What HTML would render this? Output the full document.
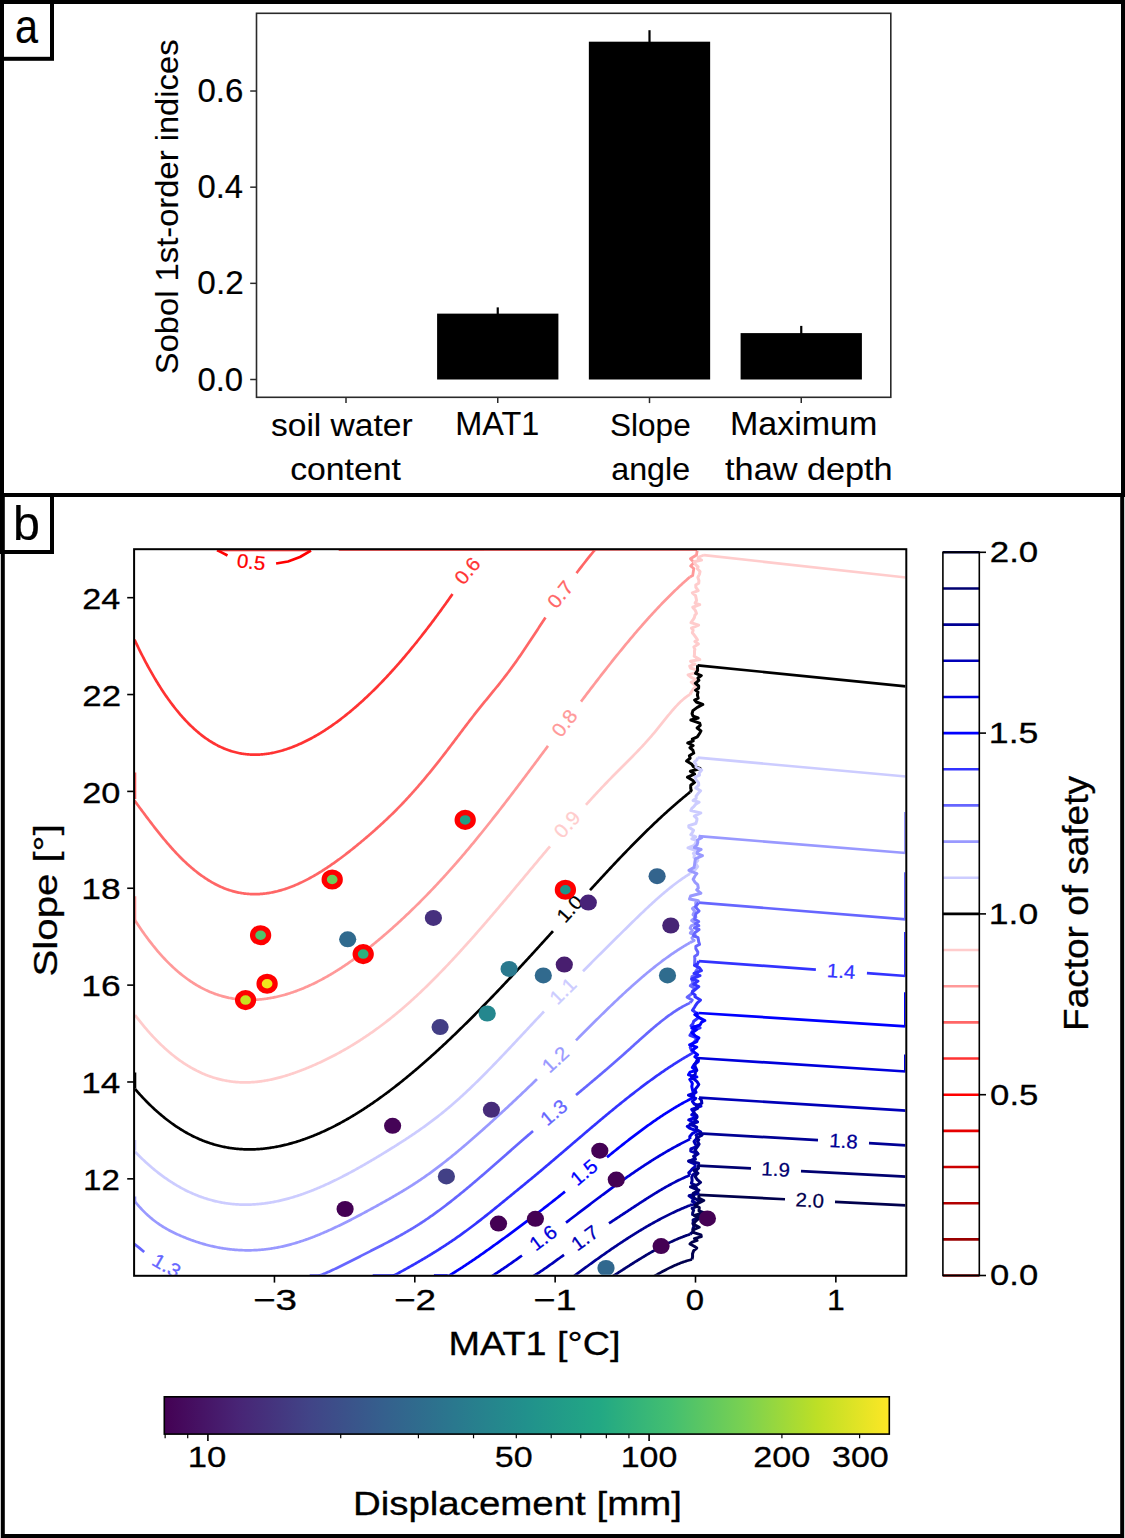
<!DOCTYPE html>
<html><head><meta charset="utf-8"><style>
html,body{margin:0;padding:0;background:#fff;}
svg{display:block;}
text{font-family:"Liberation Sans", sans-serif;}
</style></head><body>
<svg width="1125" height="1538" viewBox="0 0 1125 1538">
<rect width="1125" height="1538" fill="#fff"/>
<rect x="2" y="2" width="1121" height="493" fill="none" stroke="#000" stroke-width="4"/>
<rect x="2.8" y="495" width="1119.4" height="1041" fill="none" stroke="#000" stroke-width="4"/>
<rect x="2" y="2" width="50" height="56.8" fill="none" stroke="#000" stroke-width="4"/>
<rect x="2" y="495" width="50" height="57" fill="none" stroke="#000" stroke-width="4"/>
<text transform="translate(15.05,43) scale(0.8528,1)" font-size="48.5" fill="#000" stroke="#000" stroke-width="0.2">a</text>
<text transform="translate(13.05,540.3) scale(0.9989,1)" font-size="48.5" fill="#000" stroke="#000" stroke-width="0.2">b</text>
<rect x="437.1" y="313.63" width="121.3" height="65.87" fill="#000"/>
<line x1="497.75" y1="314.63" x2="497.75" y2="307.38" stroke="#000" stroke-width="2.2" />
<rect x="588.85" y="41.69" width="121.3" height="337.81" fill="#000"/>
<line x1="649.5" y1="42.69" x2="649.5" y2="30.2" stroke="#000" stroke-width="2.2" />
<rect x="740.6" y="333.1" width="121.3" height="46.4" fill="#000"/>
<line x1="801.25" y1="334.1" x2="801.25" y2="325.89" stroke="#000" stroke-width="2.2" />
<rect x="256.5" y="13.3" width="634.3" height="384" fill="none" stroke="#2a2a2a" stroke-width="1.6"/>
<line x1="250.2" y1="379.5" x2="256.5" y2="379.5" stroke="#2a2a2a" stroke-width="1.5" />
<text transform="translate(197.38,390.5) scale(0.9829,1)" font-size="33.5" fill="#000" stroke="#000" stroke-width="0.2">0.0</text>
<line x1="250.2" y1="283.34" x2="256.5" y2="283.34" stroke="#2a2a2a" stroke-width="1.5" />
<text transform="translate(197.37,294.34) scale(0.9943,1)" font-size="33.5" fill="#000" stroke="#000" stroke-width="0.2">0.2</text>
<line x1="250.2" y1="187.18" x2="256.5" y2="187.18" stroke="#2a2a2a" stroke-width="1.5" />
<text transform="translate(197.39,198.18) scale(0.9792,1)" font-size="33.5" fill="#000" stroke="#000" stroke-width="0.2">0.4</text>
<line x1="250.2" y1="91.02" x2="256.5" y2="91.02" stroke="#2a2a2a" stroke-width="1.5" />
<text transform="translate(197.38,102.02) scale(0.9867,1)" font-size="33.5" fill="#000" stroke="#000" stroke-width="0.2">0.6</text>
<line x1="346" y1="397.3" x2="346" y2="403.1" stroke="#2a2a2a" stroke-width="1.5" />
<line x1="497.75" y1="397.3" x2="497.75" y2="403.1" stroke="#2a2a2a" stroke-width="1.5" />
<line x1="649.5" y1="397.3" x2="649.5" y2="403.1" stroke="#2a2a2a" stroke-width="1.5" />
<line x1="801.25" y1="397.3" x2="801.25" y2="403.1" stroke="#2a2a2a" stroke-width="1.5" />
<text transform="translate(270.99,435.6) scale(1.0479,1)" font-size="32" fill="#000" stroke="#000" stroke-width="0.1">soil water</text>
<text transform="translate(290.15,479.8) scale(1.0558,1)" font-size="32" fill="#000" stroke="#000" stroke-width="0.1">content</text>
<text transform="translate(455.2,435) scale(0.9835,1)" font-size="33" fill="#000" stroke="#000" stroke-width="0.1">MAT1</text>
<text transform="translate(610.08,435.6) scale(0.9850,1)" font-size="32" fill="#000" stroke="#000" stroke-width="0.1">Slope</text>
<text transform="translate(611.31,479.8) scale(1.0064,1)" font-size="32" fill="#000" stroke="#000" stroke-width="0.1">angle</text>
<text transform="translate(729.98,435.3) scale(1.0306,1)" font-size="33" fill="#000" stroke="#000" stroke-width="0.1">Maximum</text>
<text transform="translate(725.09,479.8) scale(1.0707,1)" font-size="32" fill="#000" stroke="#000" stroke-width="0.1">thaw depth</text>
<text transform="translate(178.3,374.17) rotate(-90) scale(1.0228,1)" font-size="32" fill="#000" stroke="#000" stroke-width="0.1">Sobol 1st-order indices</text>
<defs><clipPath id="cb"><rect x="135" y="550.2" width="770.3" height="724.6"/></clipPath></defs>
<g clip-path="url(#cb)">
<polyline points="134.5,639.62 135.5,641.75 136.5,643.86 137.5,645.94 138.5,648 139.5,650.04 140.5,652.05 141.5,654.04 142.5,656 143.5,657.95 144.5,659.87 145.5,661.77 146.5,663.65 147.5,665.5 148.5,667.33 149.5,669.14 150.5,670.93 151.5,672.7 152.5,674.44 153.5,676.16 154.5,677.86 155.5,679.54 156.5,681.2 157.5,682.83 158.5,684.45 159.5,686.04 160.5,687.62 161.5,689.17 162.5,690.7 163.5,692.21 164.5,693.7 165.5,695.16 166.5,696.61 167.5,698.04 168.5,699.45 169.5,700.83 170.5,702.2 171.5,703.54 172.5,704.87 173.5,706.18 174.5,707.46 175.5,708.73 176.5,709.98 177.5,711.21 178.5,712.41 179.5,713.6 180.5,714.77 181.5,715.92 182.5,717.06 183.5,718.17 184.5,719.26 185.5,720.34 186.5,721.39 187.5,722.43 188.5,723.45 189.5,724.45 190.5,725.44 191.5,726.4 192.5,727.35 193.5,728.28 194.5,729.19 195.5,730.08 196.5,730.95 197.5,731.81 198.5,732.65 199.5,733.48 200.5,734.28 201.5,735.07 202.5,735.84 203.5,736.59 204.5,737.33 205.5,738.05 206.5,738.75 207.5,739.44 208.5,740.11 209.5,740.77 210.5,741.4 211.5,742.02 212.5,742.63 213.5,743.22 214.5,743.79 215.5,744.35 216.5,744.89 217.5,745.42 218.5,745.92 219.5,746.42 220.5,746.9 221.5,747.36 222.5,747.81 223.5,748.24 224.5,748.66 225.5,749.07 226.5,749.45 227.5,749.83 228.5,750.19 229.5,750.53 230.5,750.86 231.5,751.18 232.5,751.48 233.5,751.77 234.5,752.04 235.5,752.3 236.5,752.54 237.5,752.77 238.5,752.99 239.5,753.2 240.5,753.39 241.5,753.56 242.5,753.73 243.5,753.88 244.5,754.01 245.5,754.14 246.5,754.25 247.5,754.35 248.5,754.43 249.5,754.51 250.5,754.57 251.5,754.62 252.5,754.65 253.5,754.68 254.5,754.69 255.5,754.69 256.5,754.67 257.5,754.65 258.5,754.61 259.5,754.56 260.5,754.5 261.5,754.43 262.5,754.35 263.5,754.26 264.5,754.15 265.5,754.03 266.5,753.91 267.5,753.77 268.5,753.62 269.5,753.46 270.5,753.29 271.5,753.1 272.5,752.91 273.5,752.71 274.5,752.5 275.5,752.28 276.5,752.04 277.5,751.8 278.5,751.55 279.5,751.28 280.5,751.01 281.5,750.73 282.5,750.44 283.5,750.14 284.5,749.83 285.5,749.51 286.5,749.18 287.5,748.84 288.5,748.49 289.5,748.14 290.5,747.77 291.5,747.4 292.5,747.02 293.5,746.63 294.5,746.23 295.5,745.82 296.5,745.41 297.5,744.99 298.5,744.55 299.5,744.11 300.5,743.67 301.5,743.21 302.5,742.75 303.5,742.27 304.5,741.79 305.5,741.31 306.5,740.81 307.5,740.3 308.5,739.79 309.5,739.27 310.5,738.74 311.5,738.21 312.5,737.66 313.5,737.11 314.5,736.55 315.5,735.98 316.5,735.41 317.5,734.82 318.5,734.23 319.5,733.64 320.5,733.03 321.5,732.41 322.5,731.79 323.5,731.16 324.5,730.53 325.5,729.88 326.5,729.23 327.5,728.57 328.5,727.9 329.5,727.23 330.5,726.54 331.5,725.85 332.5,725.16 333.5,724.45 334.5,723.74 335.5,723.02 336.5,722.29 337.5,721.56 338.5,720.82 339.5,720.07 340.5,719.31 341.5,718.55 342.5,717.78 343.5,717 344.5,716.22 345.5,715.42 346.5,714.62 347.5,713.82 348.5,713 349.5,712.18 350.5,711.36 351.5,710.52 352.5,709.68 353.5,708.83 354.5,707.98 355.5,707.11 356.5,706.24 357.5,705.37 358.5,704.48 359.5,703.59 360.5,702.7 361.5,701.79 362.5,700.88 363.5,699.97 364.5,699.04 365.5,698.11 366.5,697.17 367.5,696.23 368.5,695.28 369.5,694.32 370.5,693.36 371.5,692.39 372.5,691.41 373.5,690.43 374.5,689.44 375.5,688.44 376.5,687.44 377.5,686.43 378.5,685.41 379.5,684.39 380.5,683.36 381.5,682.33 382.5,681.29 383.5,680.24 384.5,679.18 385.5,678.12 386.5,677.06 387.5,675.99 388.5,674.91 389.5,673.82 390.5,672.73 391.5,671.63 392.5,670.53 393.5,669.42 394.5,668.31 395.5,667.18 396.5,666.06 397.5,664.92 398.5,663.78 399.5,662.64 400.5,661.49 401.5,660.33 402.5,659.17 403.5,658 404.5,656.82 405.5,655.64 406.5,654.46 407.5,653.26 408.5,652.07 409.5,650.86 410.5,649.65 411.5,648.44 412.5,647.22 413.5,645.99 414.5,644.76 415.5,643.52 416.5,642.28 417.5,641.03 418.5,639.78 419.5,638.52 420.5,637.25 421.5,635.98 422.5,634.71 423.5,633.43 424.5,632.14 425.5,630.85 426.5,629.55 427.5,628.25 428.5,626.94 429.5,625.63 430.5,624.31 431.5,622.98 432.5,621.65 433.5,620.32 434.5,618.98 435.5,617.64 436.5,616.29 437.5,614.93 438.5,613.57 439.5,612.21 440.5,610.84 441.5,609.46 442.5,608.08 443.5,606.7 444.5,605.31 445.5,603.92 446.5,602.52 447.5,601.11 448.5,599.7 449.5,598.29 450.5,596.87 451.5,595.45 452.5,594.02" fill="none" stroke="#ff3333" stroke-width="2.7" stroke-linejoin="round" />
<polyline points="483.5,547.51 484.5,545.94 485.5,544.36 486,543.58" fill="none" stroke="#ff3333" stroke-width="2.7" stroke-linejoin="round" />
<g transform="translate(467.3,570.8) rotate(-50)"><text transform="translate(-14.23,6.82) scale(1.050,1)" font-size="19.5" fill="#ff3333" stroke="#ff3333" stroke-width="0.25">0.6</text></g>
<polyline points="134.5,800.64 135.5,802 136.5,803.36 137.5,804.72 138.5,806.07 139.5,807.43 140.5,808.78 141.5,810.13 142.5,811.47 143.5,812.82 144.5,814.16 145.5,815.49 146.5,816.83 147.5,818.15 148.5,819.48 149.5,820.79 150.5,822.11 151.5,823.41 152.5,824.71 153.5,826.01 154.5,827.3 155.5,828.58 156.5,829.85 157.5,831.12 158.5,832.38 159.5,833.63 160.5,834.87 161.5,836.1 162.5,837.33 163.5,838.54 164.5,839.75 165.5,840.94 166.5,842.13 167.5,843.3 168.5,844.47 169.5,845.62 170.5,846.76 171.5,847.89 172.5,849 173.5,850.11 174.5,851.2 175.5,852.28 176.5,853.34 177.5,854.39 178.5,855.43 179.5,856.45 180.5,857.46 181.5,858.46 182.5,859.44 183.5,860.42 184.5,861.37 185.5,862.32 186.5,863.25 187.5,864.16 188.5,865.07 189.5,865.96 190.5,866.83 191.5,867.69 192.5,868.54 193.5,869.38 194.5,870.2 195.5,871.01 196.5,871.8 197.5,872.58 198.5,873.35 199.5,874.1 200.5,874.84 201.5,875.56 202.5,876.27 203.5,876.97 204.5,877.65 205.5,878.32 206.5,878.98 207.5,879.62 208.5,880.25 209.5,880.86 210.5,881.46 211.5,882.05 212.5,882.62 213.5,883.18 214.5,883.72 215.5,884.25 216.5,884.77 217.5,885.27 218.5,885.76 219.5,886.23 220.5,886.69 221.5,887.14 222.5,887.57 223.5,887.99 224.5,888.39 225.5,888.78 226.5,889.15 227.5,889.51 228.5,889.86 229.5,890.19 230.5,890.51 231.5,890.81 232.5,891.1 233.5,891.38 234.5,891.64 235.5,891.89 236.5,892.13 237.5,892.35 238.5,892.56 239.5,892.76 240.5,892.94 241.5,893.11 242.5,893.27 243.5,893.41 244.5,893.54 245.5,893.66 246.5,893.77 247.5,893.86 248.5,893.94 249.5,894.01 250.5,894.07 251.5,894.11 252.5,894.14 253.5,894.16 254.5,894.17 255.5,894.16 256.5,894.15 257.5,894.12 258.5,894.08 259.5,894.03 260.5,893.97 261.5,893.89 262.5,893.8 263.5,893.71 264.5,893.6 265.5,893.48 266.5,893.35 267.5,893.2 268.5,893.05 269.5,892.89 270.5,892.71 271.5,892.53 272.5,892.33 273.5,892.12 274.5,891.91 275.5,891.68 276.5,891.44 277.5,891.19 278.5,890.93 279.5,890.67 280.5,890.39 281.5,890.1 282.5,889.8 283.5,889.49 284.5,889.17 285.5,888.85 286.5,888.51 287.5,888.16 288.5,887.81 289.5,887.44 290.5,887.07 291.5,886.68 292.5,886.29 293.5,885.89 294.5,885.48 295.5,885.06 296.5,884.63 297.5,884.19 298.5,883.74 299.5,883.29 300.5,882.83 301.5,882.35 302.5,881.87 303.5,881.39 304.5,880.89 305.5,880.39 306.5,879.87 307.5,879.35 308.5,878.82 309.5,878.29 310.5,877.74 311.5,877.19 312.5,876.63 313.5,876.07 314.5,875.49 315.5,874.91 316.5,874.32 317.5,873.73 318.5,873.13 319.5,872.52 320.5,871.9 321.5,871.28 322.5,870.64 323.5,870.01 324.5,869.36 325.5,868.71 326.5,868.06 327.5,867.39 328.5,866.72 329.5,866.05 330.5,865.37 331.5,864.68 332.5,863.98 333.5,863.28 334.5,862.58 335.5,861.87 336.5,861.15 337.5,860.43 338.5,859.7 339.5,858.97 340.5,858.23 341.5,857.48 342.5,856.73 343.5,855.98 344.5,855.22 345.5,854.45 346.5,853.68 347.5,852.91 348.5,852.13 349.5,851.34 350.5,850.55 351.5,849.76 352.5,848.96 353.5,848.16 354.5,847.35 355.5,846.54 356.5,845.73 357.5,844.91 358.5,844.08 359.5,843.26 360.5,842.43 361.5,841.59 362.5,840.75 363.5,839.91 364.5,839.07 365.5,838.22 366.5,837.36 367.5,836.51 368.5,835.65 369.5,834.78 370.5,833.92 371.5,833.05 372.5,832.17 373.5,831.29 374.5,830.41 375.5,829.52 376.5,828.63 377.5,827.73 378.5,826.83 379.5,825.92 380.5,825.01 381.5,824.09 382.5,823.17 383.5,822.24 384.5,821.31 385.5,820.38 386.5,819.43 387.5,818.48 388.5,817.53 389.5,816.57 390.5,815.61 391.5,814.63 392.5,813.66 393.5,812.67 394.5,811.68 395.5,810.69 396.5,809.68 397.5,808.67 398.5,807.66 399.5,806.64 400.5,805.61 401.5,804.57 402.5,803.53 403.5,802.48 404.5,801.42 405.5,800.35 406.5,799.28 407.5,798.2 408.5,797.12 409.5,796.02 410.5,794.92 411.5,793.81 412.5,792.7 413.5,791.58 414.5,790.45 415.5,789.31 416.5,788.17 417.5,787.02 418.5,785.87 419.5,784.71 420.5,783.54 421.5,782.37 422.5,781.19 423.5,780.01 424.5,778.82 425.5,777.62 426.5,776.42 427.5,775.21 428.5,773.99 429.5,772.77 430.5,771.55 431.5,770.32 432.5,769.08 433.5,767.84 434.5,766.6 435.5,765.35 436.5,764.09 437.5,762.83 438.5,761.57 439.5,760.3 440.5,759.02 441.5,757.74 442.5,756.46 443.5,755.17 444.5,753.88 445.5,752.58 446.5,751.28 447.5,749.98 448.5,748.67 449.5,747.35 450.5,746.04 451.5,744.72 452.5,743.4 453.5,742.07 454.5,740.75 455.5,739.42 456.5,738.09 457.5,736.77 458.5,735.44 459.5,734.11 460.5,732.78 461.5,731.45 462.5,730.13 463.5,728.8 464.5,727.48 465.5,726.16 466.5,724.84 467.5,723.53 468.5,722.22 469.5,720.91 470.5,719.61 471.5,718.31 472.5,717.02 473.5,715.73 474.5,714.45 475.5,713.18 476.5,711.91 477.5,710.64 478.5,709.39 479.5,708.14 480.5,706.9 481.5,705.66 482.5,704.42 483.5,703.19 484.5,701.96 485.5,700.74 486.5,699.52 487.5,698.29 488.5,697.07 489.5,695.85 490.5,694.63 491.5,693.41 492.5,692.19 493.5,690.96 494.5,689.74 495.5,688.51 496.5,687.27 497.5,686.03 498.5,684.79 499.5,683.54 500.5,682.28 501.5,681.02 502.5,679.75 503.5,678.47 504.5,677.19 505.5,675.89 506.5,674.59 507.5,673.27 508.5,671.95 509.5,670.61 510.5,669.26 511.5,667.9 512.5,666.53 513.5,665.15 514.5,663.75 515.5,662.35 516.5,660.93 517.5,659.51 518.5,658.08 519.5,656.63 520.5,655.18 521.5,653.73 522.5,652.26 523.5,650.79 524.5,649.31 525.5,647.82 526.5,646.33 527.5,644.83 528.5,643.33 529.5,641.83 530.5,640.32 531.5,638.8 532.5,637.28 533.5,635.76 534.5,634.24 535.5,632.71 536.5,631.19 537.5,629.66 538.5,628.13 539.5,626.6 540.5,625.07 541.5,623.54 542.5,622.01 543.5,620.49 544.5,618.96 545.5,617.44" fill="none" stroke="#ff6666" stroke-width="2.7" stroke-linejoin="round" />
<polyline points="576.5,573.08 577.5,571.77 578.5,570.46 579.5,569.16 580.5,567.86 581.5,566.57 582.5,565.28 583.5,564.01 584.5,562.73 585.5,561.47 586.5,560.2 587.5,558.95 588.5,557.7 589.5,556.45 590.5,555.21 591.5,553.98 592.5,552.75 593.5,551.52 594.5,550.3 595.5,549.09 596.5,547.87 597,547.27" fill="none" stroke="#ff6666" stroke-width="2.7" stroke-linejoin="round" />
<g transform="translate(560,594.5) rotate(-51)"><text transform="translate(-14.13,6.82) scale(1.050,1)" font-size="19.5" fill="#ff6666" stroke="#ff6666" stroke-width="0.25">0.7</text></g>
<line x1="135.2" y1="772.4" x2="135.2" y2="798.9" stroke="#ff6666" stroke-width="2.2" />
<polyline points="135,920.2 136,921.76 137,923.29 138,924.81 139,926.31 140,927.79 141,929.26 142,930.7 143,932.13 144,933.55 145,934.94 146,936.32 147,937.67 148,939.02 149,940.34 150,941.65 151,942.94 152,944.21 153,945.47 154,946.71 155,947.94 156,949.14 157,950.33 158,951.51 159,952.67 160,953.81 161,954.93 162,956.04 163,957.14 164,958.21 165,959.27 166,960.32 167,961.35 168,962.36 169,963.36 170,964.35 171,965.31 172,966.27 173,967.2 174,968.13 175,969.03 176,969.92 177,970.8 178,971.66 179,972.51 180,973.34 181,974.16 182,974.97 183,975.76 184,976.53 185,977.29 186,978.04 187,978.77 188,979.49 189,980.19 190,980.88 191,981.56 192,982.22 193,982.87 194,983.51 195,984.13 196,984.74 197,985.33 198,985.91 199,986.48 200,987.04 201,987.58 202,988.11 203,988.63 204,989.13 205,989.62 206,990.1 207,990.57 208,991.02 209,991.46 210,991.89 211,992.31 212,992.72 213,993.11 214,993.49 215,993.86 216,994.21 217,994.56 218,994.89 219,995.22 220,995.53 221,995.83 222,996.11 223,996.39 224,996.65 225,996.91 226,997.15 227,997.38 228,997.6 229,997.82 230,998.01 231,998.2 232,998.38 233,998.55 234,998.71 235,998.86 236,998.99 237,999.12 238,999.24 239,999.34 240,999.44 241,999.53 242,999.6 243,999.67 244,999.73 245,999.78 246,999.82 247,999.85 248,999.87 249,999.88 250,999.88 251,999.87 252,999.86 253,999.83 254,999.8 255,999.76 256,999.7 257,999.64 258,999.58 259,999.5 260,999.41 261,999.32 262,999.22 263,999.11 264,998.99 265,998.87 266,998.73 267,998.59 268,998.44 269,998.28 270,998.11 271,997.94 272,997.76 273,997.57 274,997.37 275,997.17 276,996.95 277,996.73 278,996.5 279,996.27 280,996.02 281,995.77 282,995.51 283,995.24 284,994.97 285,994.69 286,994.4 287,994.1 288,993.8 289,993.49 290,993.17 291,992.84 292,992.51 293,992.17 294,991.82 295,991.47 296,991.11 297,990.74 298,990.36 299,989.98 300,989.59 301,989.19 302,988.79 303,988.38 304,987.96 305,987.54 306,987.11 307,986.67 308,986.23 309,985.78 310,985.32 311,984.85 312,984.38 313,983.91 314,983.42 315,982.93 316,982.44 317,981.93 318,981.42 319,980.91 320,980.39 321,979.86 322,979.32 323,978.78 324,978.24 325,977.68 326,977.12 327,976.56 328,975.99 329,975.41 330,974.83 331,974.24 332,973.64 333,973.04 334,972.44 335,971.82 336,971.21 337,970.58 338,969.95 339,969.32 340,968.68 341,968.03 342,967.38 343,966.72 344,966.06 345,965.39 346,964.71 347,964.03 348,963.35 349,962.66 350,961.96 351,961.26 352,960.56 353,959.85 354,959.13 355,958.41 356,957.68 357,956.95 358,956.21 359,955.47 360,954.72 361,953.97 362,953.22 363,952.45 364,951.69 365,950.92 366,950.14 367,949.36 368,948.57 369,947.78 370,946.99 371,946.19 372,945.39 373,944.58 374,943.77 375,942.95 376,942.13 377,941.3 378,940.47 379,939.64 380,938.8 381,937.95 382,937.11 383,936.25 384,935.4 385,934.54 386,933.67 387,932.8 388,931.93 389,931.06 390,930.18 391,929.29 392,928.4 393,927.51 394,926.61 395,925.71 396,924.81 397,923.9 398,922.99 399,922.07 400,921.15 401,920.23 402,919.3 403,918.37 404,917.44 405,916.5 406,915.55 407,914.6 408,913.65 409,912.7 410,911.74 411,910.78 412,909.81 413,908.84 414,907.86 415,906.88 416,905.9 417,904.91 418,903.92 419,902.93 420,901.93 421,900.92 422,899.92 423,898.9 424,897.89 425,896.87 426,895.85 427,894.82 428,893.79 429,892.75 430,891.72 431,890.67 432,889.63 433,888.57 434,887.52 435,886.46 436,885.4 437,884.33 438,883.26 439,882.19 440,881.11 441,880.02 442,878.94 443,877.85 444,876.75 445,875.65 446,874.55 447,873.44 448,872.33 449,871.22 450,870.1 451,868.97 452,867.85 453,866.72 454,865.58 455,864.44 456,863.3 457,862.15 458,861 459,859.85 460,858.69 461,857.52 462,856.36 463,855.18 464,854.01 465,852.83 466,851.65 467,850.46 468,849.27 469,848.08 470,846.88 471,845.68 472,844.48 473,843.27 474,842.06 475,840.84 476,839.63 477,838.4 478,837.18 479,835.95 480,834.72 481,833.49 482,832.25 483,831.01 484,829.77 485,828.52 486,827.27 487,826.02 488,824.76 489,823.51 490,822.25 491,820.98 492,819.72 493,818.45 494,817.18 495,815.9 496,814.63 497,813.35 498,812.07 499,810.78 500,809.5 501,808.21 502,806.92 503,805.63 504,804.33 505,803.04 506,801.74 507,800.44 508,799.13 509,797.83 510,796.52 511,795.22 512,793.91 513,792.59 514,791.28 515,789.96 516,788.65 517,787.33 518,786.01 519,784.69 520,783.36 521,782.04 522,780.71 523,779.39 524,778.06 525,776.73 526,775.4 527,774.06 528,772.73 529,771.4 530,770.06 531,768.72 532,767.39 533,766.05 534,764.71 535,763.37 536,762.03 537,760.68 538,759.34 539,758 540,756.66 541,755.31 542,753.97 543,752.62 544,751.28 545,749.93 546,748.58 547,747.24 548,745.89" fill="none" stroke="#ff9999" stroke-width="2.7" stroke-linejoin="round" />
<polyline points="581,701.62 582,700.29 583,698.97 584,697.65 585,696.33 586,695.01 587,693.69 588,692.37 589,691.06 590,689.75 591,688.44 592,687.13 593,685.82 594,684.52 595,683.22 596,681.92 597,680.62 598,679.32 599,678.03 600,676.74 601,675.45 602,674.17 603,672.88 604,671.6 605,670.33 606,669.05 607,667.78 608,666.51 609,665.24 610,663.98 611,662.72 612,661.46 613,660.21 614,658.95 615,657.71 616,656.46 617,655.22 618,653.98 619,652.75 620,651.51 621,650.29 622,649.06 623,647.84 624,646.62 625,645.41 626,644.2 627,642.99 628,641.79 629,640.59 630,639.4 631,638.21 632,637.02 633,635.84 634,634.66 635,633.49 636,632.32 637,631.15 638,629.99 639,628.83 640,627.68 641,626.53 642,625.39 643,624.25 644,623.12 645,621.99 646,620.86 647,619.74 648,618.63 649,617.52 650,616.41 651,615.31 652,614.22 653,613.13 654,612.05 655,610.97 656,609.89 657,608.82 658,607.76 659,606.7 660,605.65 661,604.6 662,603.56 663,602.53 664,601.5 665,600.47 666,599.46 667,598.44 668,597.44 669,596.44 670,595.44 671,594.45 672,593.47 673,592.5 674,591.53 675,590.56 676,589.6 677,588.65 678,587.71 679,586.77 680,585.84 681,584.91 682,583.99 683,583.08 684,582.18 685,581.28 686,580.39 687,579.5 688,578.63 689,577.76 690,576.89" fill="none" stroke="#ff9999" stroke-width="2.7" stroke-linejoin="round" />
<g transform="translate(564.5,723) rotate(-52)"><text transform="translate(-14.23,6.82) scale(1.050,1)" font-size="19.5" fill="#ff9999" stroke="#ff9999" stroke-width="0.25">0.8</text></g>
<line x1="135.2" y1="896.2" x2="135.2" y2="919.9" stroke="#ff9999" stroke-width="2.2" />
<polyline points="690,576.89 692.7,575.6 693.8,568.5 690.6,566 694.2,562.5 690.4,558.8 696.5,555 697.2,550.5" fill="none" stroke="#ff9999" stroke-width="2.8" stroke-linejoin="round" />
<polyline points="135,1014.96 136,1016.28 137,1017.59 138,1018.89 139,1020.17 140,1021.43 141,1022.69 142,1023.92 143,1025.15 144,1026.35 145,1027.55 146,1028.72 147,1029.89 148,1031.04 149,1032.17 150,1033.29 151,1034.4 152,1035.49 153,1036.57 154,1037.63 155,1038.68 156,1039.72 157,1040.74 158,1041.75 159,1042.75 160,1043.73 161,1044.69 162,1045.65 163,1046.59 164,1047.51 165,1048.43 166,1049.33 167,1050.21 168,1051.08 169,1051.94 170,1052.79 171,1053.62 172,1054.44 173,1055.25 174,1056.04 175,1056.82 176,1057.59 177,1058.35 178,1059.09 179,1059.82 180,1060.54 181,1061.24 182,1061.93 183,1062.61 184,1063.28 185,1063.93 186,1064.57 187,1065.2 188,1065.82 189,1066.42 190,1067.02 191,1067.6 192,1068.16 193,1068.72 194,1069.27 195,1069.8 196,1070.32 197,1070.83 198,1071.33 199,1071.81 200,1072.28 201,1072.75 202,1073.2 203,1073.64 204,1074.06 205,1074.48 206,1074.89 207,1075.28 208,1075.66 209,1076.03 210,1076.4 211,1076.74 212,1077.08 213,1077.41 214,1077.73 215,1078.03 216,1078.33 217,1078.61 218,1078.88 219,1079.15 220,1079.4 221,1079.64 222,1079.87 223,1080.09 224,1080.3 225,1080.5 226,1080.69 227,1080.87 228,1081.04 229,1081.2 230,1081.35 231,1081.49 232,1081.62 233,1081.74 234,1081.85 235,1081.95 236,1082.04 237,1082.12 238,1082.19 239,1082.25 240,1082.3 241,1082.35 242,1082.38 243,1082.4 244,1082.42 245,1082.42 246,1082.42 247,1082.4 248,1082.38 249,1082.35 250,1082.31 251,1082.26 252,1082.2 253,1082.14 254,1082.06 255,1081.98 256,1081.89 257,1081.79 258,1081.68 259,1081.56 260,1081.44 261,1081.31 262,1081.17 263,1081.02 264,1080.86 265,1080.7 266,1080.53 267,1080.35 268,1080.16 269,1079.97 270,1079.77 271,1079.56 272,1079.35 273,1079.13 274,1078.9 275,1078.67 276,1078.42 277,1078.18 278,1077.92 279,1077.66 280,1077.39 281,1077.12 282,1076.84 283,1076.55 284,1076.26 285,1075.96 286,1075.66 287,1075.35 288,1075.04 289,1074.71 290,1074.39 291,1074.06 292,1073.72 293,1073.38 294,1073.03 295,1072.68 296,1072.32 297,1071.96 298,1071.59 299,1071.22 300,1070.84 301,1070.46 302,1070.07 303,1069.68 304,1069.29 305,1068.89 306,1068.49 307,1068.08 308,1067.67 309,1067.25 310,1066.83 311,1066.41 312,1065.98 313,1065.55 314,1065.12 315,1064.68 316,1064.23 317,1063.78 318,1063.33 319,1062.87 320,1062.41 321,1061.95 322,1061.48 323,1061.01 324,1060.53 325,1060.04 326,1059.56 327,1059.07 328,1058.57 329,1058.07 330,1057.57 331,1057.06 332,1056.55 333,1056.03 334,1055.51 335,1054.98 336,1054.45 337,1053.92 338,1053.38 339,1052.83 340,1052.28 341,1051.73 342,1051.17 343,1050.61 344,1050.05 345,1049.47 346,1048.9 347,1048.32 348,1047.73 349,1047.14 350,1046.55 351,1045.95 352,1045.35 353,1044.74 354,1044.13 355,1043.51 356,1042.89 357,1042.26 358,1041.63 359,1040.99 360,1040.35 361,1039.7 362,1039.05 363,1038.4 364,1037.74 365,1037.07 366,1036.4 367,1035.73 368,1035.05 369,1034.36 370,1033.67 371,1032.98 372,1032.28 373,1031.57 374,1030.86 375,1030.15 376,1029.43 377,1028.7 378,1027.97 379,1027.24 380,1026.5 381,1025.76 382,1025.01 383,1024.25 384,1023.49 385,1022.73 386,1021.96 387,1021.18 388,1020.4 389,1019.61 390,1018.82 391,1018.03 392,1017.23 393,1016.42 394,1015.61 395,1014.79 396,1013.97 397,1013.14 398,1012.31 399,1011.47 400,1010.63 401,1009.78 402,1008.93 403,1008.07 404,1007.2 405,1006.33 406,1005.46 407,1004.58 408,1003.69 409,1002.8 410,1001.91 411,1001.01 412,1000.1 413,999.19 414,998.27 415,997.35 416,996.43 417,995.5 418,994.57 419,993.63 420,992.68 421,991.74 422,990.78 423,989.83 424,988.86 425,987.9 426,986.93 427,985.95 428,984.97 429,983.99 430,983 431,982.01 432,981.02 433,980.02 434,979.01 435,978 436,976.99 437,975.98 438,974.96 439,973.93 440,972.91 441,971.87 442,970.84 443,969.8 444,968.76 445,967.71 446,966.67 447,965.61 448,964.56 449,963.5 450,962.43 451,961.37 452,960.3 453,959.23 454,958.15 455,957.07 456,955.99 457,954.9 458,953.82 459,952.72 460,951.63 461,950.53 462,949.43 463,948.33 464,947.22 465,946.12 466,945 467,943.89 468,942.77 469,941.66 470,940.53 471,939.41 472,938.28 473,937.15 474,936.02 475,934.89 476,933.75 477,932.62 478,931.48 479,930.33 480,929.19 481,928.04 482,926.89 483,925.74 484,924.59 485,923.44 486,922.28 487,921.12 488,919.96 489,918.8 490,917.64 491,916.47 492,915.3 493,914.14 494,912.97 495,911.8 496,910.62 497,909.45 498,908.27 499,907.1 500,905.92 501,904.74 502,903.56 503,902.38 504,901.19 505,900.01 506,898.82 507,897.64 508,896.45 509,895.26 510,894.07 511,892.88 512,891.69 513,890.5 514,889.31 515,888.12 516,886.93 517,885.73 518,884.54 519,883.34 520,882.15 521,880.95 522,879.76 523,878.56 524,877.36 525,876.17 526,874.97 527,873.77 528,872.58 529,871.38 530,870.18 531,868.99 532,867.79 533,866.59 534,865.4 535,864.2 536,863.01 537,861.81 538,860.62 539,859.42 540,858.23 541,857.04 542,855.84 543,854.65 544,853.46 545,852.27 546,851.08 547,849.89 548,848.71 549,847.52 550,846.34" fill="none" stroke="#ffcccc" stroke-width="2.7" stroke-linejoin="round" />
<polyline points="586,804.81 587,803.7 588,802.59 589,801.49 590,800.39 591,799.29 592,798.2 593,797.11 594,796.02 595,794.94 596,793.85 597,792.78 598,791.7 599,790.63 600,789.57 601,788.5 602,787.44 603,786.39 604,785.34 605,784.29 606,783.24 607,782.2 608,781.17 609,780.14 610,779.11 611,778.09 612,777.07 613,776.05 614,775.04 615,774.03 616,773.02 617,772.02 618,771.01 619,770.01 620,769.01 621,768.01 622,767.02 623,766.02 624,765.02 625,764.02 626,763.02 627,762.01 628,761.01 629,760 630,758.99 631,757.98 632,756.97 633,755.95 634,754.92 635,753.9 636,752.86 637,751.83 638,750.78 639,749.73 640,748.68 641,747.62 642,746.55 643,745.47 644,744.39 645,743.3 646,742.19 647,741.09 648,739.97 649,738.84 650,737.7 651,736.55 652,735.39 653,734.22 654,733.04 655,731.84 656,730.64 657,729.42 658,728.19 659,726.95 660,725.7 661,724.45 662,723.2 663,721.95 664,720.69 665,719.44 666,718.19 667,716.95 668,715.72 669,714.5 670,713.29 671,712.09 672,710.91 673,709.75 674,708.6 675,707.48 676,706.38 677,705.31 678,704.26 679,703.25 680,702.26 681,701.31 682,700.39 683,699.5 684,698.66 685,697.86 686,697.09 687,696.38 688,695.71 689,695.08 690,694.51" fill="none" stroke="#ffcccc" stroke-width="2.7" stroke-linejoin="round" />
<g transform="translate(567,824.4) rotate(-48)"><text transform="translate(-14.18,6.82) scale(1.050,1)" font-size="19.5" fill="#ffcccc" stroke="#ffcccc" stroke-width="0.25">0.9</text></g>
<polyline points="690,694.51 691.04,692.51 693.11,689.25 696.11,686.78 693.92,684.24 691.18,682.11 697.18,680.22 690.81,677.04 688.04,674.91 698.07,672.17 697.1,670.1 690.59,667.98 689.66,666.12 695.02,664.23 690.47,661.22 699.83,659.58 694.2,656.21 694.52,654.14 694.49,650.88 694.88,649.28 693.82,646.96 698.44,643.89 694.89,641.42 697.49,639.77 695.69,637.15 693.7,634.41 692.36,632.74 693.19,630.16 691.4,628.12 698.62,625.09 690.94,622.6 692.94,619.95 694.35,617.66 694.96,615.14 696.52,613.52 695.33,610.37 692.74,607.24 699.75,604.71 695.1,603.08 696.6,600.45 695.94,597.4 695.53,595.71 692.34,592.84 698.25,590.64 695.87,587.33 695.75,584.99 698.7,583.24 698.96,580.7 697.83,577.36 699.4,574.37 700.06,571.51 697.13,568.53 698.17,566.78 695.73,564.75 694.03,561.69 701.57,559.98 697,557.8" fill="none" stroke="#ffcccc" stroke-width="3.0" stroke-linejoin="round" />
<polyline points="697,557.8 704,555.1" fill="none" stroke="#ffcccc" stroke-width="2.7" stroke-linejoin="round" />
<polyline points="704,555.1 906,577.5" fill="none" stroke="#ffcccc" stroke-width="2.7" stroke-linejoin="round" />
<polyline points="135,1088.96 136,1090.11 137,1091.25 138,1092.38 139,1093.49 140,1094.59 141,1095.68 142,1096.76 143,1097.82 144,1098.88 145,1099.92 146,1100.94 147,1101.96 148,1102.96 149,1103.95 150,1104.93 151,1105.89 152,1106.85 153,1107.79 154,1108.72 155,1109.64 156,1110.55 157,1111.44 158,1112.32 159,1113.19 160,1114.05 161,1114.9 162,1115.74 163,1116.56 164,1117.38 165,1118.18 166,1118.97 167,1119.75 168,1120.52 169,1121.27 170,1122.02 171,1122.75 172,1123.48 173,1124.19 174,1124.89 175,1125.58 176,1126.26 177,1126.93 178,1127.58 179,1128.23 180,1128.87 181,1129.49 182,1130.11 183,1130.71 184,1131.3 185,1131.89 186,1132.46 187,1133.02 188,1133.57 189,1134.11 190,1134.64 191,1135.17 192,1135.68 193,1136.18 194,1136.67 195,1137.15 196,1137.62 197,1138.08 198,1138.53 199,1138.97 200,1139.4 201,1139.82 202,1140.23 203,1140.63 204,1141.02 205,1141.41 206,1141.78 207,1142.14 208,1142.5 209,1142.84 210,1143.17 211,1143.5 212,1143.82 213,1144.12 214,1144.42 215,1144.71 216,1144.99 217,1145.26 218,1145.52 219,1145.77 220,1146.02 221,1146.25 222,1146.48 223,1146.7 224,1146.9 225,1147.1 226,1147.3 227,1147.48 228,1147.65 229,1147.82 230,1147.97 231,1148.12 232,1148.26 233,1148.4 234,1148.52 235,1148.63 236,1148.74 237,1148.84 238,1148.93 239,1149.02 240,1149.09 241,1149.16 242,1149.22 243,1149.27 244,1149.31 245,1149.35 246,1149.38 247,1149.4 248,1149.41 249,1149.41 250,1149.41 251,1149.4 252,1149.38 253,1149.36 254,1149.33 255,1149.29 256,1149.24 257,1149.19 258,1149.13 259,1149.06 260,1148.98 261,1148.9 262,1148.81 263,1148.72 264,1148.61 265,1148.5 266,1148.39 267,1148.26 268,1148.13 269,1147.99 270,1147.85 271,1147.7 272,1147.54 273,1147.38 274,1147.21 275,1147.04 276,1146.85 277,1146.67 278,1146.47 279,1146.27 280,1146.06 281,1145.85 282,1145.63 283,1145.4 284,1145.17 285,1144.94 286,1144.69 287,1144.44 288,1144.19 289,1143.93 290,1143.66 291,1143.38 292,1143.11 293,1142.82 294,1142.53 295,1142.23 296,1141.93 297,1141.62 298,1141.31 299,1140.99 300,1140.66 301,1140.33 302,1139.99 303,1139.65 304,1139.3 305,1138.95 306,1138.59 307,1138.23 308,1137.85 309,1137.48 310,1137.1 311,1136.71 312,1136.32 313,1135.92 314,1135.52 315,1135.11 316,1134.69 317,1134.27 318,1133.85 319,1133.42 320,1132.98 321,1132.54 322,1132.1 323,1131.64 324,1131.19 325,1130.73 326,1130.26 327,1129.79 328,1129.31 329,1128.83 330,1128.34 331,1127.85 332,1127.35 333,1126.85 334,1126.34 335,1125.83 336,1125.31 337,1124.79 338,1124.26 339,1123.73 340,1123.19 341,1122.65 342,1122.1 343,1121.55 344,1120.99 345,1120.43 346,1119.86 347,1119.29 348,1118.72 349,1118.13 350,1117.55 351,1116.96 352,1116.37 353,1115.77 354,1115.16 355,1114.55 356,1113.94 357,1113.32 358,1112.7 359,1112.08 360,1111.44 361,1110.81 362,1110.17 363,1109.53 364,1108.88 365,1108.22 366,1107.57 367,1106.91 368,1106.24 369,1105.57 370,1104.89 371,1104.22 372,1103.53 373,1102.85 374,1102.15 375,1101.46 376,1100.76 377,1100.06 378,1099.35 379,1098.64 380,1097.92 381,1097.2 382,1096.48 383,1095.75 384,1095.01 385,1094.28 386,1093.54 387,1092.79 388,1092.05 389,1091.3 390,1090.54 391,1089.78 392,1089.02 393,1088.25 394,1087.48 395,1086.71 396,1085.93 397,1085.15 398,1084.36 399,1083.57 400,1082.78 401,1081.98 402,1081.18 403,1080.38 404,1079.57 405,1078.76 406,1077.94 407,1077.13 408,1076.3 409,1075.48 410,1074.65 411,1073.82 412,1072.98 413,1072.15 414,1071.3 415,1070.46 416,1069.61 417,1068.76 418,1067.9 419,1067.05 420,1066.18 421,1065.32 422,1064.45 423,1063.58 424,1062.71 425,1061.83 426,1060.95 427,1060.06 428,1059.18 429,1058.29 430,1057.4 431,1056.5 432,1055.6 433,1054.7 434,1053.8 435,1052.89 436,1051.98 437,1051.06 438,1050.15 439,1049.23 440,1048.31 441,1047.38 442,1046.45 443,1045.52 444,1044.59 445,1043.66 446,1042.72 447,1041.78 448,1040.83 449,1039.89 450,1038.94 451,1037.99 452,1037.03 453,1036.08 454,1035.12 455,1034.16 456,1033.19 457,1032.22 458,1031.26 459,1030.28 460,1029.31 461,1028.33 462,1027.36 463,1026.37 464,1025.39 465,1024.41 466,1023.42 467,1022.43 468,1021.44 469,1020.44 470,1019.44 471,1018.45 472,1017.44 473,1016.44 474,1015.44 475,1014.43 476,1013.42 477,1012.41 478,1011.39 479,1010.38 480,1009.36 481,1008.34 482,1007.32 483,1006.3 484,1005.27 485,1004.24 486,1003.22 487,1002.18 488,1001.15 489,1000.12 490,999.08 491,998.04 492,997 493,995.96 494,994.92 495,993.87 496,992.83 497,991.78 498,990.73 499,989.68 500,988.63 501,987.57 502,986.52 503,985.46 504,984.4 505,983.34 506,982.28 507,981.21 508,980.15 509,979.08 510,978.01 511,976.95 512,975.88 513,974.8 514,973.73 515,972.66 516,971.58 517,970.51 518,969.43 519,968.35 520,967.27 521,966.19 522,965.11 523,964.02 524,962.94 525,961.85 526,960.77 527,959.68 528,958.59 529,957.5 530,956.41 531,955.32 532,954.23 533,953.13 534,952.04 535,950.95 536,949.85 537,948.75 538,947.66 539,946.56 540,945.46 541,944.36 542,943.26 543,942.16 544,941.06 545,939.96 546,938.85 547,937.75 548,936.65 549,935.54 550,934.44 551,933.33 552,932.23 553,931.12" fill="none" stroke="#000000" stroke-width="2.7" stroke-linejoin="round" />
<polyline points="590,890.2 591,889.1 592,888.01 593,886.92 594,885.82 595,884.73 596,883.64 597,882.55 598,881.47 599,880.38 600,879.29 601,878.21 602,877.13 603,876.05 604,874.97 605,873.89 606,872.82 607,871.74 608,870.67 609,869.6 610,868.53 611,867.46 612,866.39 613,865.33 614,864.27 615,863.21 616,862.15 617,861.1 618,860.04 619,858.99 620,857.94 621,856.89 622,855.85 623,854.8 624,853.76 625,852.73 626,851.69 627,850.66 628,849.62 629,848.6 630,847.57 631,846.55 632,845.53 633,844.51 634,843.49 635,842.48 636,841.47 637,840.46 638,839.46 639,838.46 640,837.46 641,836.46 642,835.47 643,834.48 644,833.49 645,832.51 646,831.53 647,830.55 648,829.58 649,828.61 650,827.64 651,826.67 652,825.71 653,824.76 654,823.8 655,822.85 656,821.91 657,820.96 658,820.02 659,819.09 660,818.16 661,817.23 662,816.3 663,815.38 664,814.47 665,813.55 666,812.64 667,811.74 668,810.84 669,809.94 670,809.05 671,808.16 672,807.27 673,806.39 674,805.52 675,804.64 676,803.78 677,802.91 678,802.05 679,801.2 680,800.35 681,799.5 682,798.66 683,797.83 684,797 685,796.17 686,795.35 687,794.53 688,793.72 689,792.91 690,792.11" fill="none" stroke="#000000" stroke-width="2.7" stroke-linejoin="round" />
<g transform="translate(569.9,908.5) rotate(-48)"><text transform="translate(-14.64,6.82) scale(1.050,1)" font-size="19.5" fill="#000000" stroke="#000000" stroke-width="0.25">1.0</text></g>
<line x1="135.2" y1="1072.4" x2="135.2" y2="1088.6" stroke="#000000" stroke-width="2.2" />
<polyline points="690,792.11 691.27,790.39 690.7,788.36 690.75,785.29 694.6,782.23 692.89,780.52 687.48,777.19 694.55,774.1 690.41,771.31 700.21,768.54 693.25,766.5 691.82,764.25 686.62,761.04 690.15,758.3 689.37,755.75 693.75,753.07 692.86,750.12 689.95,747.75 693.12,745.58 687.79,743.01 693.24,740.93 692.33,739.08 697.32,736.91 699.56,733.52 700.95,730.91 697.14,728 700.27,725.29 699.59,723.05 690.85,720.05 698.14,718.01 693.11,716.28 692.05,713.62 692.89,710.62 697.27,707.41 702.77,704.5 696.32,701.98 694.64,700.08 698.2,698.26 697.39,694.99 697.94,692.02 695.55,690.16 698.62,688.28 698.69,685.95 695.33,683.3 698.89,680.31 697.94,678.03 701.32,675.54 695.52,673.4 697.63,670.36 697.51,667.97 697.6,665.3" fill="none" stroke="#000000" stroke-width="3.0" stroke-linejoin="round" />
<polyline points="697.6,665.3 906,686.3" fill="none" stroke="#000000" stroke-width="2.7" stroke-linejoin="round" />
<polyline points="135,1151.73 136,1152.76 137,1153.78 138,1154.78 139,1155.78 140,1156.76 141,1157.73 142,1158.69 143,1159.64 144,1160.58 145,1161.51 146,1162.42 147,1163.33 148,1164.22 149,1165.11 150,1165.98 151,1166.84 152,1167.69 153,1168.53 154,1169.36 155,1170.18 156,1170.99 157,1171.78 158,1172.57 159,1173.35 160,1174.11 161,1174.87 162,1175.61 163,1176.34 164,1177.07 165,1177.78 166,1178.48 167,1179.18 168,1179.86 169,1180.53 170,1181.19 171,1181.84 172,1182.49 173,1183.12 174,1183.74 175,1184.35 176,1184.95 177,1185.54 178,1186.13 179,1186.7 180,1187.26 181,1187.81 182,1188.36 183,1188.89 184,1189.41 185,1189.93 186,1190.43 187,1190.93 188,1191.41 189,1191.89 190,1192.36 191,1192.81 192,1193.26 193,1193.7 194,1194.13 195,1194.55 196,1194.96 197,1195.36 198,1195.76 199,1196.14 200,1196.51 201,1196.88 202,1197.24 203,1197.59 204,1197.92 205,1198.25 206,1198.58 207,1198.89 208,1199.19 209,1199.49 210,1199.77 211,1200.05 212,1200.32 213,1200.58 214,1200.84 215,1201.08 216,1201.31 217,1201.54 218,1201.76 219,1201.97 220,1202.17 221,1202.37 222,1202.55 223,1202.73 224,1202.9 225,1203.06 226,1203.22 227,1203.36 228,1203.5 229,1203.63 230,1203.75 231,1203.86 232,1203.97 233,1204.07 234,1204.16 235,1204.24 236,1204.32 237,1204.38 238,1204.44 239,1204.5 240,1204.54 241,1204.58 242,1204.61 243,1204.63 244,1204.65 245,1204.66 246,1204.66 247,1204.65 248,1204.64 249,1204.62 250,1204.59 251,1204.55 252,1204.51 253,1204.46 254,1204.4 255,1204.34 256,1204.27 257,1204.19 258,1204.11 259,1204.02 260,1203.92 261,1203.82 262,1203.71 263,1203.59 264,1203.47 265,1203.34 266,1203.2 267,1203.06 268,1202.91 269,1202.75 270,1202.59 271,1202.42 272,1202.24 273,1202.06 274,1201.88 275,1201.68 276,1201.48 277,1201.28 278,1201.06 279,1200.85 280,1200.62 281,1200.39 282,1200.15 283,1199.91 284,1199.67 285,1199.41 286,1199.15 287,1198.89 288,1198.62 289,1198.34 290,1198.06 291,1197.77 292,1197.48 293,1197.18 294,1196.88 295,1196.57 296,1196.25 297,1195.94 298,1195.61 299,1195.28 300,1194.95 301,1194.61 302,1194.26 303,1193.91 304,1193.56 305,1193.2 306,1192.83 307,1192.46 308,1192.09 309,1191.71 310,1191.32 311,1190.94 312,1190.54 313,1190.14 314,1189.74 315,1189.34 316,1188.93 317,1188.51 318,1188.09 319,1187.67 320,1187.24 321,1186.8 322,1186.37 323,1185.93 324,1185.48 325,1185.03 326,1184.58 327,1184.12 328,1183.66 329,1183.2 330,1182.73 331,1182.26 332,1181.78 333,1181.3 334,1180.82 335,1180.33 336,1179.84 337,1179.35 338,1178.85 339,1178.35 340,1177.84 341,1177.34 342,1176.83 343,1176.31 344,1175.79 345,1175.27 346,1174.75 347,1174.22 348,1173.69 349,1173.16 350,1172.62 351,1172.08 352,1171.54 353,1171 354,1170.45 355,1169.9 356,1169.35 357,1168.79 358,1168.24 359,1167.68 360,1167.11 361,1166.55 362,1165.98 363,1165.41 364,1164.84 365,1164.26 366,1163.68 367,1163.1 368,1162.52 369,1161.94 370,1161.35 371,1160.77 372,1160.18 373,1159.58 374,1158.99 375,1158.39 376,1157.8 377,1157.2 378,1156.6 379,1155.99 380,1155.39 381,1154.78 382,1154.18 383,1153.57 384,1152.96 385,1152.35 386,1151.73 387,1151.12 388,1150.5 389,1149.88 390,1149.27 391,1148.64 392,1148.02 393,1147.4 394,1146.77 395,1146.15 396,1145.52 397,1144.89 398,1144.25 399,1143.62 400,1142.98 401,1142.34 402,1141.7 403,1141.05 404,1140.41 405,1139.76 406,1139.1 407,1138.45 408,1137.79 409,1137.13 410,1136.47 411,1135.8 412,1135.13 413,1134.45 414,1133.78 415,1133.1 416,1132.41 417,1131.73 418,1131.03 419,1130.34 420,1129.64 421,1128.94 422,1128.23 423,1127.52 424,1126.81 425,1126.09 426,1125.37 427,1124.64 428,1123.91 429,1123.17 430,1122.43 431,1121.69 432,1120.94 433,1120.18 434,1119.42 435,1118.66 436,1117.89 437,1117.11 438,1116.33 439,1115.55 440,1114.76 441,1113.96 442,1113.16 443,1112.35 444,1111.54 445,1110.72 446,1109.89 447,1109.06 448,1108.23 449,1107.39 450,1106.54 451,1105.68 452,1104.82 453,1103.96 454,1103.09 455,1102.21 456,1101.33 457,1100.44 458,1099.55 459,1098.65 460,1097.75 461,1096.84 462,1095.92 463,1095 464,1094.08 465,1093.15 466,1092.22 467,1091.28 468,1090.34 469,1089.4 470,1088.44 471,1087.49 472,1086.53 473,1085.57 474,1084.6 475,1083.63 476,1082.65 477,1081.67 478,1080.69 479,1079.7 480,1078.71 481,1077.72 482,1076.72 483,1075.72 484,1074.72 485,1073.71 486,1072.7 487,1071.69 488,1070.67 489,1069.65 490,1068.63 491,1067.61 492,1066.58 493,1065.55 494,1064.52 495,1063.48 496,1062.45 497,1061.41 498,1060.37 499,1059.32 500,1058.28 501,1057.23 502,1056.18 503,1055.13 504,1054.08 505,1053.02 506,1051.97 507,1050.91 508,1049.85 509,1048.79 510,1047.73 511,1046.67 512,1045.6 513,1044.54 514,1043.47 515,1042.41 516,1041.34 517,1040.27 518,1039.2 519,1038.13 520,1037.06 521,1035.99 522,1034.92 523,1033.85 524,1032.78 525,1031.71 526,1030.64 527,1029.57 528,1028.5 529,1027.43 530,1026.36 531,1025.29 532,1024.22 533,1023.15 534,1022.09 535,1021.02 536,1019.95 537,1018.89 538,1017.82 539,1016.76 540,1015.7 541,1014.64 542,1013.58 543,1012.52 544,1011.46" fill="none" stroke="#ccccff" stroke-width="2.7" stroke-linejoin="round" />
<polyline points="583,971.23 584,970.22 585,969.21 586,968.21 587,967.2 588,966.19 589,965.19 590,964.18 591,963.18 592,962.17 593,961.17 594,960.17 595,959.17 596,958.17 597,957.17 598,956.17 599,955.17 600,954.18 601,953.18 602,952.18 603,951.19 604,950.19 605,949.2 606,948.21 607,947.21 608,946.22 609,945.23 610,944.24 611,943.25 612,942.26 613,941.27 614,940.28 615,939.29 616,938.3 617,937.31 618,936.33 619,935.34 620,934.35 621,933.37 622,932.38 623,931.4 624,930.41 625,929.43 626,928.44 627,927.46 628,926.47 629,925.49 630,924.51 631,923.53 632,922.55 633,921.57 634,920.59 635,919.62 636,918.64 637,917.67 638,916.7 639,915.74 640,914.77 641,913.81 642,912.85 643,911.9 644,910.95 645,910 646,909.05 647,908.11 648,907.17 649,906.24 650,905.31 651,904.39 652,903.47 653,902.55 654,901.64 655,900.74 656,899.84 657,898.95 658,898.06 659,897.18 660,896.3 661,895.43 662,894.57 663,893.71 664,892.86 665,892.01 666,891.18 667,890.35 668,889.53 669,888.71 670,887.91 671,887.11 672,886.32 673,885.53 674,884.76 675,883.99 676,883.24 677,882.49 678,881.75 679,881.02 680,880.3 681,879.59 682,878.89 683,878.2 684,877.52 685,876.85 686,876.19 687,875.54 688,874.91 689,874.28 690,873.66" fill="none" stroke="#ccccff" stroke-width="2.7" stroke-linejoin="round" />
<g transform="translate(563.1,990.8) rotate(-45)"><text transform="translate(-14.54,6.73) scale(1.050,1)" font-size="19.5" fill="#ccccff" stroke="#ccccff" stroke-width="0.25">1.1</text></g>
<line x1="135.2" y1="1140" x2="135.2" y2="1150.4" stroke="#ccccff" stroke-width="2.2" />
<polyline points="690,873.66 690.77,871.7 695.08,869.7 697.69,866.58 695.47,863.38 697.74,860.5 693.95,857.45 694.45,855.5 693.43,853.44 698.1,851.31 687.98,847.93 694.31,845.27 695.8,842.82 697.12,840.67 691.88,838.75 695.74,836.9 690.8,834.63 692.38,832.66 693.54,830.28 688.85,827.22 688.78,825.57 695.83,823.46 696.84,820.37 696.95,818.53 694.35,816.15 700.81,812.88 690.81,810.66 691.87,808.38 693.63,806.73 696.12,803.82 699.08,802.18 693.11,800.46 696.2,798.32 696.05,796.23 697.66,794.12 700.61,790.83 695.75,787.93 698.72,785.15 698.57,782.72 696.31,780.25 694.95,777.05 699.51,775.06 699.21,773.1 701.65,770.13 696.02,767.01 696.16,764.73 694.39,761.95 696.92,759.89 697.6,757.7" fill="none" stroke="#ccccff" stroke-width="3.0" stroke-linejoin="round" />
<polyline points="697.6,757.7 906,776.5" fill="none" stroke="#ccccff" stroke-width="2.7" stroke-linejoin="round" />
<polyline points="135,1201.57 136,1202.8 137,1204 138,1205.18 139,1206.32 140,1207.44 141,1208.53 142,1209.59 143,1210.63 144,1211.65 145,1212.63 146,1213.6 147,1214.54 148,1215.45 149,1216.35 150,1217.22 151,1218.07 152,1218.9 153,1219.7 154,1220.49 155,1221.26 156,1222.01 157,1222.74 158,1223.45 159,1224.14 160,1224.82 161,1225.48 162,1226.12 163,1226.75 164,1227.36 165,1227.96 166,1228.54 167,1229.11 168,1229.67 169,1230.21 170,1230.74 171,1231.26 172,1231.77 173,1232.27 174,1232.76 175,1233.24 176,1233.71 177,1234.17 178,1234.63 179,1235.07 180,1235.51 181,1235.95 182,1236.37 183,1236.79 184,1237.21 185,1237.62 186,1238.02 187,1238.41 188,1238.8 189,1239.18 190,1239.56 191,1239.92 192,1240.29 193,1240.64 194,1240.99 195,1241.34 196,1241.67 197,1242 198,1242.33 199,1242.64 200,1242.95 201,1243.26 202,1243.56 203,1243.85 204,1244.13 205,1244.41 206,1244.68 207,1244.95 208,1245.21 209,1245.46 210,1245.71 211,1245.95 212,1246.18 213,1246.41 214,1246.63 215,1246.84 216,1247.05 217,1247.25 218,1247.45 219,1247.64 220,1247.82 221,1248 222,1248.17 223,1248.33 224,1248.48 225,1248.63 226,1248.78 227,1248.92 228,1249.05 229,1249.17 230,1249.29 231,1249.4 232,1249.51 233,1249.6 234,1249.7 235,1249.78 236,1249.86 237,1249.93 238,1250 239,1250.06 240,1250.11 241,1250.16 242,1250.2 243,1250.24 244,1250.26 245,1250.29 246,1250.3 247,1250.31 248,1250.31 249,1250.31 250,1250.3 251,1250.28 252,1250.26 253,1250.23 254,1250.19 255,1250.15 256,1250.1 257,1250.04 258,1249.98 259,1249.91 260,1249.84 261,1249.76 262,1249.67 263,1249.57 264,1249.47 265,1249.37 266,1249.25 267,1249.13 268,1249.01 269,1248.87 270,1248.74 271,1248.59 272,1248.44 273,1248.28 274,1248.11 275,1247.94 276,1247.77 277,1247.58 278,1247.39 279,1247.19 280,1246.99 281,1246.78 282,1246.56 283,1246.34 284,1246.11 285,1245.88 286,1245.64 287,1245.39 288,1245.14 289,1244.88 290,1244.61 291,1244.34 292,1244.07 293,1243.78 294,1243.5 295,1243.2 296,1242.9 297,1242.6 298,1242.29 299,1241.98 300,1241.65 301,1241.33 302,1241 303,1240.66 304,1240.32 305,1239.98 306,1239.62 307,1239.27 308,1238.91 309,1238.54 310,1238.17 311,1237.8 312,1237.42 313,1237.03 314,1236.65 315,1236.25 316,1235.86 317,1235.45 318,1235.05 319,1234.64 320,1234.22 321,1233.81 322,1233.38 323,1232.96 324,1232.53 325,1232.09 326,1231.66 327,1231.22 328,1230.77 329,1230.32 330,1229.87 331,1229.42 332,1228.96 333,1228.5 334,1228.03 335,1227.56 336,1227.09 337,1226.62 338,1226.14 339,1225.66 340,1225.17 341,1224.69 342,1224.2 343,1223.7 344,1223.21 345,1222.71 346,1222.21 347,1221.71 348,1221.2 349,1220.7 350,1220.19 351,1219.68 352,1219.16 353,1218.64 354,1218.13 355,1217.61 356,1217.08 357,1216.56 358,1216.03 359,1215.5 360,1214.97 361,1214.44 362,1213.91 363,1213.37 364,1212.84 365,1212.3 366,1211.76 367,1211.22 368,1210.68 369,1210.14 370,1209.59 371,1209.05 372,1208.5 373,1207.95 374,1207.41 375,1206.86 376,1206.31 377,1205.76 378,1205.21 379,1204.65 380,1204.1 381,1203.55 382,1202.99 383,1202.43 384,1201.87 385,1201.31 386,1200.75 387,1200.19 388,1199.62 389,1199.06 390,1198.49 391,1197.92 392,1197.34 393,1196.77 394,1196.19 395,1195.61 396,1195.03 397,1194.44 398,1193.85 399,1193.26 400,1192.67 401,1192.07 402,1191.47 403,1190.87 404,1190.26 405,1189.65 406,1189.04 407,1188.42 408,1187.8 409,1187.18 410,1186.55 411,1185.92 412,1185.29 413,1184.65 414,1184 415,1183.36 416,1182.71 417,1182.05 418,1181.39 419,1180.72 420,1180.05 421,1179.38 422,1178.7 423,1178.01 424,1177.32 425,1176.63 426,1175.93 427,1175.23 428,1174.52 429,1173.8 430,1173.08 431,1172.36 432,1171.63 433,1170.89 434,1170.15 435,1169.41 436,1168.66 437,1167.91 438,1167.15 439,1166.39 440,1165.62 441,1164.85 442,1164.08 443,1163.3 444,1162.52 445,1161.73 446,1160.94 447,1160.15 448,1159.35 449,1158.55 450,1157.74 451,1156.94 452,1156.12 453,1155.31 454,1154.49 455,1153.67 456,1152.84 457,1152.01 458,1151.18 459,1150.34 460,1149.5 461,1148.66 462,1147.82 463,1146.97 464,1146.12 465,1145.27 466,1144.41 467,1143.55 468,1142.69 469,1141.83 470,1140.96 471,1140.09 472,1139.22 473,1138.35 474,1137.48 475,1136.6 476,1135.72 477,1134.84 478,1133.96 479,1133.07 480,1132.18 481,1131.3 482,1130.41 483,1129.51 484,1128.62 485,1127.73 486,1126.83 487,1125.93 488,1125.03 489,1124.13 490,1123.23 491,1122.32 492,1121.42 493,1120.51 494,1119.6 495,1118.69 496,1117.78 497,1116.86 498,1115.95 499,1115.03 500,1114.11 501,1113.19 502,1112.27 503,1111.35 504,1110.42 505,1109.5 506,1108.57 507,1107.64 508,1106.71 509,1105.78 510,1104.85 511,1103.91 512,1102.98 513,1102.04 514,1101.1 515,1100.16 516,1099.22 517,1098.27 518,1097.33 519,1096.38 520,1095.44 521,1094.49 522,1093.54 523,1092.58 524,1091.63 525,1090.68 526,1089.72 527,1088.76 528,1087.8 529,1086.84 530,1085.88 531,1084.92 532,1083.95 533,1082.99 534,1082.02 535,1081.05 536,1080.08 537,1079.11" fill="none" stroke="#9999ff" stroke-width="2.7" stroke-linejoin="round" />
<polyline points="576,1040.34 577,1039.33 578,1038.33 579,1037.32 580,1036.32 581,1035.31 582,1034.3 583,1033.3 584,1032.3 585,1031.29 586,1030.29 587,1029.29 588,1028.29 589,1027.29 590,1026.29 591,1025.29 592,1024.29 593,1023.3 594,1022.3 595,1021.31 596,1020.32 597,1019.32 598,1018.34 599,1017.35 600,1016.36 601,1015.38 602,1014.4 603,1013.42 604,1012.44 605,1011.46 606,1010.49 607,1009.51 608,1008.54 609,1007.57 610,1006.61 611,1005.64 612,1004.68 613,1003.73 614,1002.77 615,1001.82 616,1000.87 617,999.92 618,998.97 619,998.03 620,997.09 621,996.16 622,995.22 623,994.29 624,993.37 625,992.44 626,991.52 627,990.61 628,989.69 629,988.78 630,987.88 631,986.97 632,986.08 633,985.18 634,984.29 635,983.4 636,982.52 637,981.64 638,980.77 639,979.9 640,979.03 641,978.17 642,977.31 643,976.46 644,975.61 645,974.77 646,973.93 647,973.09 648,972.27 649,971.44 650,970.62 651,969.81 652,969 653,968.19 654,967.39 655,966.6 656,965.81 657,965.03 658,964.25 659,963.48 660,962.71 661,961.95 662,961.2 663,960.45 664,959.7 665,958.97 666,958.23 667,957.51 668,956.79 669,956.08 670,955.37 671,954.67 672,953.98 673,953.29 674,952.61 675,951.93 676,951.26 677,950.6 678,949.95 679,949.3 680,948.66 681,948.03 682,947.4 683,946.78 684,946.17 685,945.57 686,944.97 687,944.38 688,943.79 689,943.22 690,942.65" fill="none" stroke="#9999ff" stroke-width="2.7" stroke-linejoin="round" />
<g transform="translate(555.5,1059.2) rotate(-43)"><text transform="translate(-14.49,6.82) scale(1.050,1)" font-size="19.5" fill="#9999ff" stroke="#9999ff" stroke-width="0.25">1.2</text></g>
<line x1="135.2" y1="1196.6" x2="135.2" y2="1201.2" stroke="#9999ff" stroke-width="2.2" />
<polyline points="690,942.65 694.14,940.47 691.96,937.97 695.37,935.24 690.31,933.03 692.39,930.49 690.15,928.08 691.26,925.87 696.27,923.74 691.67,920.53 695.94,917.28 693,914.62 694.72,911.23 692.41,908.57 695.93,906.04 695.69,902.95 698.3,900.73 689.53,899.05 690.65,895.98 700.91,893.24 696.65,889.92 698.32,887.94 697.67,884.59 694.85,882.09 693.13,879.28 694.16,877.6 695.36,875.38 696.93,873.58 688.92,870.28 694.13,867.44 694.61,864.37 694.91,862.01 695.38,858.88 702.49,855.7 697.11,853.57 697.51,851.47 701.14,849.43 694.31,847.53 697.07,844.89 697.83,842.2 697.54,839.97 701.73,837.79 698.7,836.2" fill="none" stroke="#9999ff" stroke-width="3.0" stroke-linejoin="round" />
<polyline points="698.7,836.2 906,853" fill="none" stroke="#9999ff" stroke-width="2.7" stroke-linejoin="round" />
<polyline points="300,1282.21 301,1281.94 302,1281.67 303,1281.39 304,1281.1 305,1280.8 306,1280.5 307,1280.18 308,1279.86 309,1279.54 310,1279.2 311,1278.86 312,1278.51 313,1278.15 314,1277.79 315,1277.42 316,1277.05 317,1276.67 318,1276.28 319,1275.89 320,1275.49 321,1275.08 322,1274.67 323,1274.26 324,1273.84 325,1273.41 326,1272.98 327,1272.54 328,1272.1 329,1271.66 330,1271.21 331,1270.76 332,1270.3 333,1269.84 334,1269.37 335,1268.9 336,1268.43 337,1267.96 338,1267.48 339,1267 340,1266.51 341,1266.02 342,1265.53 343,1265.04 344,1264.55 345,1264.05 346,1263.55 347,1263.05 348,1262.55 349,1262.04 350,1261.54 351,1261.03 352,1260.52 353,1260.01 354,1259.5 355,1258.99 356,1258.48 357,1257.97 358,1257.46 359,1256.95 360,1256.43 361,1255.92 362,1255.41 363,1254.9 364,1254.39 365,1253.88 366,1253.37 367,1252.86 368,1252.35 369,1251.84 370,1251.33 371,1250.82 372,1250.31 373,1249.81 374,1249.3 375,1248.79 376,1248.28 377,1247.77 378,1247.26 379,1246.74 380,1246.23 381,1245.72 382,1245.2 383,1244.68 384,1244.17 385,1243.65 386,1243.13 387,1242.6 388,1242.08 389,1241.55 390,1241.02 391,1240.49 392,1239.96 393,1239.42 394,1238.88 395,1238.34 396,1237.8 397,1237.25 398,1236.7 399,1236.15 400,1235.6 401,1235.04 402,1234.48 403,1233.91 404,1233.34 405,1232.77 406,1232.19 407,1231.61 408,1231.02 409,1230.44 410,1229.84 411,1229.24 412,1228.64 413,1228.04 414,1227.42 415,1226.81 416,1226.19 417,1225.56 418,1224.93 419,1224.29 420,1223.65 421,1223 422,1222.35 423,1221.69 424,1221.02 425,1220.36 426,1219.68 427,1219 428,1218.32 429,1217.63 430,1216.93 431,1216.23 432,1215.53 433,1214.82 434,1214.11 435,1213.39 436,1212.67 437,1211.94 438,1211.21 439,1210.47 440,1209.73 441,1208.99 442,1208.24 443,1207.49 444,1206.73 445,1205.97 446,1205.21 447,1204.44 448,1203.67 449,1202.89 450,1202.11 451,1201.33 452,1200.54 453,1199.75 454,1198.96 455,1198.16 456,1197.36 457,1196.56 458,1195.75 459,1194.94 460,1194.13 461,1193.31 462,1192.5 463,1191.68 464,1190.85 465,1190.03 466,1189.2 467,1188.37 468,1187.53 469,1186.7 470,1185.86 471,1185.02 472,1184.17 473,1183.33 474,1182.48 475,1181.63 476,1180.78 477,1179.92 478,1179.07 479,1178.21 480,1177.35 481,1176.49 482,1175.63 483,1174.77 484,1173.9 485,1173.04 486,1172.17 487,1171.3 488,1170.43 489,1169.56 490,1168.69 491,1167.81 492,1166.94 493,1166.06 494,1165.19 495,1164.31 496,1163.43 497,1162.56 498,1161.68 499,1160.8 500,1159.92 501,1159.04 502,1158.16 503,1157.28 504,1156.4 505,1155.52 506,1154.64 507,1153.76 508,1152.88 509,1152 510,1151.12 511,1150.24 512,1149.36 513,1148.48 514,1147.6 515,1146.72 516,1145.84 517,1144.97 518,1144.09 519,1143.21 520,1142.34 521,1141.47 522,1140.59 523,1139.72 524,1138.85 525,1137.98 526,1137.11 527,1136.25 528,1135.38 529,1134.52 530,1133.66 531,1132.79 532,1131.93 533,1131.08" fill="none" stroke="#6666ff" stroke-width="2.7" stroke-linejoin="round" />
<polyline points="576,1095.03 577,1094.19 578,1093.36 579,1092.53 580,1091.69 581,1090.86 582,1090.03 583,1089.19 584,1088.36 585,1087.52 586,1086.68 587,1085.85 588,1085.01 589,1084.17 590,1083.33 591,1082.49 592,1081.65 593,1080.81 594,1079.96 595,1079.12 596,1078.27 597,1077.43 598,1076.58 599,1075.73 600,1074.88 601,1074.03 602,1073.18 603,1072.33 604,1071.47 605,1070.61 606,1069.76 607,1068.9 608,1068.04 609,1067.17 610,1066.31 611,1065.44 612,1064.58 613,1063.71 614,1062.84 615,1061.97 616,1061.09 617,1060.21 618,1059.34 619,1058.46 620,1057.57 621,1056.69 622,1055.8 623,1054.92 624,1054.02 625,1053.13 626,1052.24 627,1051.34 628,1050.44 629,1049.54 630,1048.64 631,1047.73 632,1046.83 633,1045.93 634,1045.02 635,1044.12 636,1043.21 637,1042.31 638,1041.41 639,1040.5 640,1039.61 641,1038.71 642,1037.81 643,1036.92 644,1036.03 645,1035.14 646,1034.25 647,1033.37 648,1032.5 649,1031.62 650,1030.75 651,1029.89 652,1029.03 653,1028.18 654,1027.33 655,1026.49 656,1025.65 657,1024.82 658,1024 659,1023.18 660,1022.37 661,1021.57 662,1020.78 663,1019.99 664,1019.21 665,1018.45 666,1017.69 667,1016.94 668,1016.2 669,1015.46 670,1014.74 671,1014.03 672,1013.34 673,1012.65 674,1011.97 675,1011.3 676,1010.65 677,1010.01 678,1009.38 679,1008.77 680,1008.16 681,1007.57 682,1007 683,1006.43 684,1005.89 685,1005.35 686,1004.83 687,1004.33 688,1003.84 689,1003.37 690,1002.91" fill="none" stroke="#6666ff" stroke-width="2.7" stroke-linejoin="round" />
<g transform="translate(554,1112.1) rotate(-40)"><text transform="translate(-14.59,6.82) scale(1.050,1)" font-size="19.5" fill="#6666ff" stroke="#6666ff" stroke-width="0.25">1.3</text></g>
<line x1="309.7" y1="1275" x2="320.1" y2="1275" stroke="#6666ff" stroke-width="2.0" />
<polyline points="690,1002.91 692.24,1000 687.12,997.27 691.02,994.32 692.22,992.35 694.04,990.4 694.74,988.36 690.31,985.71 693.03,983.46 692.21,980.51 691.91,978.27 691.98,976.66 697.64,973.91 695.75,971.37 697.35,969.05 698.4,967.23 694.55,964.3 694.74,961.75 694.82,958.44 694.63,956.38 697.53,954.41 697.81,952.07 695.89,948.84 695.86,946.24 699.6,944.46 698.76,942.08 698.29,939.26 698.04,937.66 693.46,935.7 694.81,932.72 699.08,929.53 694.43,927.88 698.82,925.62 695.35,923.73 698.71,921.5 694.69,919.24 695.29,916.29 695.95,913.65 699.06,911.07 697.43,909.33 695.45,906.66 698.7,902.7" fill="none" stroke="#6666ff" stroke-width="3.0" stroke-linejoin="round" />
<polyline points="698.7,902.7 906,919.3" fill="none" stroke="#6666ff" stroke-width="2.7" stroke-linejoin="round" />
<polyline points="385,1280.4 386,1279.86 387,1279.32 388,1278.78 389,1278.24 390,1277.7 391,1277.16 392,1276.61 393,1276.07 394,1275.52 395,1274.98 396,1274.43 397,1273.88 398,1273.34 399,1272.79 400,1272.24 401,1271.68 402,1271.13 403,1270.58 404,1270.02 405,1269.47 406,1268.91 407,1268.35 408,1267.79 409,1267.23 410,1266.66 411,1266.1 412,1265.53 413,1264.96 414,1264.39 415,1263.82 416,1263.24 417,1262.67 418,1262.09 419,1261.51 420,1260.93 421,1260.34 422,1259.76 423,1259.17 424,1258.58 425,1257.98 426,1257.39 427,1256.79 428,1256.19 429,1255.58 430,1254.98 431,1254.37 432,1253.76 433,1253.14 434,1252.52 435,1251.9 436,1251.28 437,1250.66 438,1250.03 439,1249.39 440,1248.76 441,1248.12 442,1247.48 443,1246.83 444,1246.19 445,1245.53 446,1244.88 447,1244.22 448,1243.56 449,1242.89 450,1242.22 451,1241.55 452,1240.87 453,1240.19 454,1239.51 455,1238.82 456,1238.13 457,1237.43 458,1236.73 459,1236.03 460,1235.32 461,1234.6 462,1233.89 463,1233.16 464,1232.44 465,1231.71 466,1230.98 467,1230.24 468,1229.5 469,1228.76 470,1228.01 471,1227.26 472,1226.5 473,1225.75 474,1224.99 475,1224.22 476,1223.45 477,1222.69 478,1221.91 479,1221.14 480,1220.36 481,1219.58 482,1218.8 483,1218.01 484,1217.22 485,1216.43 486,1215.64 487,1214.85 488,1214.05 489,1213.25 490,1212.45 491,1211.65 492,1210.84 493,1210.04 494,1209.23 495,1208.42 496,1207.61 497,1206.8 498,1205.99 499,1205.18 500,1204.36 501,1203.55 502,1202.73 503,1201.91 504,1201.1 505,1200.28 506,1199.46 507,1198.64 508,1197.82 509,1197 510,1196.18 511,1195.36 512,1194.54 513,1193.72 514,1192.9 515,1192.08 516,1191.26 517,1190.44 518,1189.62 519,1188.8 520,1187.98 521,1187.16 522,1186.34 523,1185.51 524,1184.69 525,1183.87 526,1183.05 527,1182.23 528,1181.4 529,1180.58 530,1179.75 531,1178.93 532,1178.1 533,1177.27 534,1176.44 535,1175.61 536,1174.78 537,1173.94 538,1173.11 539,1172.27 540,1171.44 541,1170.6 542,1169.76 543,1168.92 544,1168.07 545,1167.23 546,1166.39 547,1165.54 548,1164.69 549,1163.85 550,1163 551,1162.15 552,1161.3 553,1160.45 554,1159.6 555,1158.75 556,1157.89 557,1157.04 558,1156.19 559,1155.33 560,1154.48 561,1153.63 562,1152.77 563,1151.91 564,1151.06 565,1150.2 566,1149.35 567,1148.49 568,1147.63 569,1146.78 570,1145.92 571,1145.06 572,1144.21 573,1143.35 574,1142.49 575,1141.64 576,1140.78 577,1139.93 578,1139.07 579,1138.21 580,1137.36 581,1136.51 582,1135.65 583,1134.8 584,1133.94 585,1133.09 586,1132.24 587,1131.39 588,1130.54 589,1129.69 590,1128.84 591,1127.99 592,1127.14 593,1126.29 594,1125.45 595,1124.6 596,1123.76 597,1122.92 598,1122.07 599,1121.23 600,1120.39 601,1119.55 602,1118.72 603,1117.88 604,1117.05 605,1116.21 606,1115.38 607,1114.55 608,1113.72 609,1112.89 610,1112.07 611,1111.24 612,1110.42 613,1109.6 614,1108.78 615,1107.96 616,1107.15 617,1106.33 618,1105.52 619,1104.71 620,1103.9 621,1103.09 622,1102.29 623,1101.49 624,1100.69 625,1099.89 626,1099.09 627,1098.3 628,1097.51 629,1096.72 630,1095.93 631,1095.15 632,1094.36 633,1093.58 634,1092.81 635,1092.03 636,1091.26 637,1090.49 638,1089.72 639,1088.96 640,1088.2 641,1087.44 642,1086.68 643,1085.93 644,1085.18 645,1084.43 646,1083.69 647,1082.95 648,1082.21 649,1081.48 650,1080.74 651,1080.02 652,1079.29 653,1078.57 654,1077.85 655,1077.13 656,1076.42 657,1075.71 658,1075.01 659,1074.31 660,1073.61 661,1072.91 662,1072.22 663,1071.53 664,1070.85 665,1070.17 666,1069.49 667,1068.82 668,1068.15 669,1067.49 670,1066.83 671,1066.17 672,1065.52 673,1064.87 674,1064.23 675,1063.59 676,1062.95 677,1062.32 678,1061.69 679,1061.07 680,1060.45 681,1059.83 682,1059.22 683,1058.62 684,1058.02 685,1057.42 686,1056.83 687,1056.24 688,1055.66 689,1055.08 690,1054.5 691,1053.93 692,1053.37 693,1052.81" fill="none" stroke="#3333ff" stroke-width="2.7" stroke-linejoin="round" />
<line x1="372.7" y1="1275" x2="394.6" y2="1275" stroke="#3333ff" stroke-width="2.0" />
<polyline points="693,1052.81 691.41,1050.19 690.21,1047.26 692.37,1043.95 695.32,1040.67 696.75,1038.61 694.67,1037.01 689.94,1035.26 691.23,1033.35 692.67,1030.75 700.07,1027.9 691.02,1025.72 692.88,1023.73 693.73,1021.26 698.03,1018.07 696.58,1014.78 696.64,1013.15 692.48,1010.31 694.63,1007.03 695.77,1005.1 697.31,1002.86 700.48,1000.01 694.95,996.69 695.17,994.99 692.52,993.34 692.6,991.09 695.45,989.41 698.75,986.67 693.69,984.32 697.97,981.11 691.69,978.99 699.99,975.68 694.01,973.45 701.45,970.62 699.5,967.89 694.53,965.47 697.63,963.66 698.7,961.2" fill="none" stroke="#3333ff" stroke-width="3.0" stroke-linejoin="round" />
<polyline points="698.7,961.2 815.87,969.57" fill="none" stroke="#3333ff" stroke-width="2.7" stroke-linejoin="round" />
<polyline points="866.94,973.21 906,976" fill="none" stroke="#3333ff" stroke-width="2.7" stroke-linejoin="round" />
<g transform="translate(841.6,971.3) rotate(3.5)"><text transform="translate(-14.69,6.73) scale(1.050,1)" font-size="19.5" fill="#3333ff" stroke="#3333ff" stroke-width="0.25">1.4</text></g>
<polyline points="440,1280.98 441,1280.41 442,1279.83 443,1279.25 444,1278.67 445,1278.08 446,1277.49 447,1276.89 448,1276.29 449,1275.69 450,1275.08 451,1274.47 452,1273.85 453,1273.24 454,1272.61 455,1271.99 456,1271.36 457,1270.73 458,1270.09 459,1269.45 460,1268.81 461,1268.17 462,1267.52 463,1266.87 464,1266.21 465,1265.56 466,1264.9 467,1264.23 468,1263.57 469,1262.9 470,1262.23 471,1261.55 472,1260.88 473,1260.2 474,1259.52 475,1258.84 476,1258.15 477,1257.46 478,1256.77 479,1256.08 480,1255.39 481,1254.69 482,1253.99 483,1253.29 484,1252.59 485,1251.88 486,1251.18 487,1250.47 488,1249.76 489,1249.05 490,1248.34 491,1247.62 492,1246.91 493,1246.19 494,1245.47 495,1244.76 496,1244.03 497,1243.31 498,1242.59 499,1241.87 500,1241.14 501,1240.42 502,1239.69 503,1238.96 504,1238.23 505,1237.5 506,1236.77 507,1236.04 508,1235.31 509,1234.57 510,1233.84 511,1233.1 512,1232.37 513,1231.63 514,1230.89 515,1230.15 516,1229.41 517,1228.67 518,1227.92 519,1227.18 520,1226.43 521,1225.69 522,1224.94 523,1224.19 524,1223.44 525,1222.69 526,1221.94 527,1221.18 528,1220.43 529,1219.67 530,1218.92 531,1218.16 532,1217.4 533,1216.64 534,1215.88 535,1215.11 536,1214.35 537,1213.58 538,1212.81 539,1212.05 540,1211.28 541,1210.51 542,1209.73 543,1208.96 544,1208.18 545,1207.41 546,1206.63 547,1205.85 548,1205.07 549,1204.29 550,1203.51 551,1202.72 552,1201.94 553,1201.15 554,1200.36 555,1199.57 556,1198.78 557,1197.98 558,1197.19 559,1196.39 560,1195.6 561,1194.8 562,1194 563,1193.19 564,1192.39 565,1191.59" fill="none" stroke="#0000ff" stroke-width="2.7" stroke-linejoin="round" />
<polyline points="607,1157.21 608,1156.39 609,1155.58 610,1154.77 611,1153.96 612,1153.15 613,1152.35 614,1151.54 615,1150.74 616,1149.94 617,1149.14 618,1148.34 619,1147.54 620,1146.75 621,1145.95 622,1145.16 623,1144.37 624,1143.58 625,1142.8 626,1142.02 627,1141.24 628,1140.46 629,1139.68 630,1138.91 631,1138.14 632,1137.37 633,1136.6 634,1135.84 635,1135.08 636,1134.32 637,1133.57 638,1132.82 639,1132.07 640,1131.32 641,1130.58 642,1129.84 643,1129.1 644,1128.37 645,1127.64 646,1126.91 647,1126.19 648,1125.47 649,1124.76 650,1124.04 651,1123.34 652,1122.63 653,1121.93 654,1121.23 655,1120.54 656,1119.85 657,1119.17 658,1118.49 659,1117.81 660,1117.14 661,1116.47 662,1115.81 663,1115.15 664,1114.49 665,1113.84 666,1113.2 667,1112.56 668,1111.92 669,1111.29 670,1110.66 671,1110.04 672,1109.42 673,1108.81 674,1108.21 675,1107.61 676,1107.01 677,1106.42 678,1105.83 679,1105.25 680,1104.68 681,1104.11 682,1103.55 683,1102.99 684,1102.44 685,1101.89 686,1101.35 687,1100.82 688,1100.29 689,1099.77 690,1099.25 691,1098.74 692,1098.24 693,1097.74" fill="none" stroke="#0000ff" stroke-width="2.7" stroke-linejoin="round" />
<g transform="translate(584.2,1172.2) rotate(-40)"><text transform="translate(-14.59,6.73) scale(1.050,1)" font-size="19.5" fill="#0000ff" stroke="#0000ff" stroke-width="0.25">1.5</text></g>
<line x1="433.9" y1="1275" x2="447.8" y2="1275" stroke="#0000ff" stroke-width="2.0" />
<polyline points="693,1097.74 693.97,1094.47 693.07,1091.76 692.47,1089.78 691.79,1086.43 692.35,1083.4 691.28,1081.56 689.81,1079.47 696.85,1076.95 688.47,1074.83 690,1072.18 696.07,1070.44 692.36,1067.5 694.02,1064.74 698.35,1061.49 698.49,1059.4 694.9,1056.82 697.62,1054.79 694.12,1052.24 692.5,1050.02 696.73,1047.08 689.61,1044.83 696.78,1041.68 697.33,1039.77 698.86,1037.84 695.43,1035.96 692.05,1032.66 696.41,1029.65 691.83,1027.97 699.99,1024.97 701.53,1022.29 704.8,1020.55 699.61,1017.84 694.8,1014.62 698.7,1013" fill="none" stroke="#0000ff" stroke-width="3.0" stroke-linejoin="round" />
<polyline points="698.7,1013 906,1026.3" fill="none" stroke="#0000ff" stroke-width="2.7" stroke-linejoin="round" />
<polyline points="485,1280.53 486,1279.9 487,1279.27 488,1278.64 489,1278.01 490,1277.37 491,1276.73 492,1276.09 493,1275.44 494,1274.79 495,1274.14 496,1273.48 497,1272.82 498,1272.16 499,1271.5 500,1270.83 501,1270.16 502,1269.49 503,1268.81 504,1268.13 505,1267.45 506,1266.77 507,1266.08 508,1265.4 509,1264.71 510,1264.01 511,1263.32 512,1262.62 513,1261.92 514,1261.22 515,1260.51 516,1259.81 517,1259.1 518,1258.39 519,1257.68 520,1256.96 521,1256.24 522,1255.53" fill="none" stroke="#0000db" stroke-width="2.7" stroke-linejoin="round" />
<polyline points="566,1222.6 567,1221.84 568,1221.07 569,1220.31 570,1219.55 571,1218.78 572,1218.02 573,1217.25 574,1216.49 575,1215.72 576,1214.96 577,1214.2 578,1213.43 579,1212.67 580,1211.91 581,1211.14 582,1210.38 583,1209.62 584,1208.86 585,1208.1 586,1207.34 587,1206.58 588,1205.82 589,1205.06 590,1204.31 591,1203.55 592,1202.79 593,1202.04 594,1201.29 595,1200.53 596,1199.78 597,1199.03 598,1198.28 599,1197.53 600,1196.79 601,1196.04 602,1195.29 603,1194.55 604,1193.81 605,1193.07 606,1192.33 607,1191.59 608,1190.85 609,1190.12 610,1189.38 611,1188.65 612,1187.92 613,1187.19 614,1186.46 615,1185.74 616,1185.01 617,1184.29 618,1183.57 619,1182.85 620,1182.14 621,1181.42 622,1180.71 623,1180 624,1179.29 625,1178.59 626,1177.88 627,1177.18 628,1176.48 629,1175.78 630,1175.09 631,1174.4 632,1173.71 633,1173.02 634,1172.33 635,1171.65 636,1170.97 637,1170.29 638,1169.62 639,1168.95 640,1168.28 641,1167.61 642,1166.95 643,1166.29 644,1165.63 645,1164.97 646,1164.32 647,1163.67 648,1163.02 649,1162.38 650,1161.74 651,1161.1 652,1160.47 653,1159.84 654,1159.21 655,1158.59 656,1157.97 657,1157.35 658,1156.74 659,1156.13 660,1155.52 661,1154.92 662,1154.32 663,1153.72 664,1153.13 665,1152.54 666,1151.95 667,1151.37 668,1150.79 669,1150.22 670,1149.65 671,1149.08 672,1148.52 673,1147.96 674,1147.41 675,1146.86 676,1146.32 677,1145.77 678,1145.24 679,1144.7 680,1144.18 681,1143.65 682,1143.13 683,1142.62 684,1142.1 685,1141.6 686,1141.1 687,1140.6 688,1140.11 689,1139.62 690,1139.13" fill="none" stroke="#0000db" stroke-width="2.7" stroke-linejoin="round" />
<g transform="translate(543.4,1237.5) rotate(-37)"><text transform="translate(-14.59,6.82) scale(1.050,1)" font-size="19.5" fill="#0000db" stroke="#0000db" stroke-width="0.25">1.6</text></g>
<polyline points="690,1139.13 689.76,1136.42 692.59,1133.29 697.3,1130.99 689.41,1128.04 687.25,1126.41 693.98,1123.9 693.12,1121.8 688.7,1119.97 697.01,1116.89 691.69,1114.89 693.96,1112.71 691.63,1109.48 700.98,1106.2 694.17,1103.97 692.35,1101.31 695.81,1098.27 688.46,1095.07 696.08,1092.33 695.02,1089.71 697.37,1086.6 698.85,1084.46 697.02,1081.68 694.03,1079.14 691.36,1076.96 695.23,1074.51 695.39,1072.15 696.86,1070.35 695.55,1067.21 694.65,1064.36 696.13,1062.07 697.39,1059.69 697,1058" fill="none" stroke="#0000db" stroke-width="3.0" stroke-linejoin="round" />
<polyline points="697,1058 906,1071.5" fill="none" stroke="#0000db" stroke-width="2.7" stroke-linejoin="round" />
<polyline points="525,1281.12 526,1280.55 527,1279.98 528,1279.4 529,1278.81 530,1278.21 531,1277.61 532,1277 533,1276.38 534,1275.75 535,1275.12 536,1274.48 537,1273.83 538,1273.18 539,1272.52 540,1271.86 541,1271.19 542,1270.52 543,1269.84 544,1269.15 545,1268.47 546,1267.77 547,1267.08 548,1266.38 549,1265.67 550,1264.96 551,1264.25 552,1263.54 553,1262.82 554,1262.1 555,1261.38 556,1260.66 557,1259.93 558,1259.21 559,1258.48 560,1257.75 561,1257.02 562,1256.29 563,1255.56 564,1254.82" fill="none" stroke="#0000b8" stroke-width="2.7" stroke-linejoin="round" />
<polyline points="609,1223.36 610,1222.7 611,1222.04 612,1221.38 613,1220.73 614,1220.07 615,1219.41 616,1218.75 617,1218.09 618,1217.44 619,1216.78 620,1216.12 621,1215.47 622,1214.81 623,1214.15 624,1213.5 625,1212.84 626,1212.18 627,1211.52 628,1210.86 629,1210.2 630,1209.54 631,1208.88 632,1208.23 633,1207.57 634,1206.91 635,1206.25 636,1205.6 637,1204.94 638,1204.29 639,1203.63 640,1202.98 641,1202.33 642,1201.68 643,1201.03 644,1200.39 645,1199.75 646,1199.1 647,1198.47 648,1197.83 649,1197.2 650,1196.57 651,1195.94 652,1195.31 653,1194.69 654,1194.07 655,1193.46 656,1192.84 657,1192.24 658,1191.63 659,1191.03 660,1190.44 661,1189.84 662,1189.26 663,1188.67 664,1188.1 665,1187.52 666,1186.95 667,1186.39 668,1185.83 669,1185.28 670,1184.73 671,1184.19 672,1183.65 673,1183.12 674,1182.6 675,1182.08 676,1181.57 677,1181.07 678,1180.57 679,1180.08 680,1179.59 681,1179.11 682,1178.64 683,1178.18 684,1177.72 685,1177.28 686,1176.83 687,1176.4 688,1175.98 689,1175.56 690,1175.15" fill="none" stroke="#0000b8" stroke-width="2.7" stroke-linejoin="round" />
<g transform="translate(585,1237.7) rotate(-36)"><text transform="translate(-14.49,6.73) scale(1.050,1)" font-size="19.5" fill="#0000b8" stroke="#0000b8" stroke-width="0.25">1.7</text></g>
<polyline points="690,1175.15 688.72,1172.76 691,1170.46 692.48,1168.77 694.76,1166.76 695.07,1164.05 689.2,1161.52 693.96,1159.21 695.22,1155.9 698.1,1153.81 690.74,1151.09 690.86,1149 697.8,1146.09 695.43,1144.27 694.01,1141.57 696.03,1139.24 697.49,1137.31 696.01,1135.23 700.83,1131.99 696.08,1129.2 696.74,1127.21 690.08,1124.03 697.59,1122.01 694.68,1119.92 696.79,1117.67 696.82,1115.61 694.29,1113.37 693.87,1110.19 697.65,1108.45 696.32,1105.82 701.86,1103.26 701.42,1100.21 699,1097.7" fill="none" stroke="#0000b8" stroke-width="3.0" stroke-linejoin="round" />
<polyline points="699,1097.7 906,1110.6" fill="none" stroke="#0000b8" stroke-width="2.7" stroke-linejoin="round" />
<polyline points="566,1282.02 567,1281.28 568,1280.53 569,1279.78 570,1279.03 571,1278.29 572,1277.54 573,1276.79 574,1276.05 575,1275.31 576,1274.56 577,1273.82 578,1273.08 579,1272.34 580,1271.6 581,1270.87 582,1270.13 583,1269.39 584,1268.66 585,1267.93 586,1267.2 587,1266.47 588,1265.74 589,1265.01 590,1264.28 591,1263.56 592,1262.83 593,1262.11 594,1261.39 595,1260.67 596,1259.96 597,1259.24 598,1258.53 599,1257.82 600,1257.11 601,1256.4 602,1255.69 603,1254.99 604,1254.28 605,1253.58 606,1252.88 607,1252.19 608,1251.49 609,1250.8 610,1250.11 611,1249.42 612,1248.74 613,1248.05 614,1247.37 615,1246.69 616,1246.02 617,1245.34 618,1244.67 619,1244 620,1243.34 621,1242.67 622,1242.01 623,1241.35 624,1240.7 625,1240.04 626,1239.39 627,1238.75 628,1238.1 629,1237.46 630,1236.82 631,1236.19 632,1235.55 633,1234.92 634,1234.3 635,1233.67 636,1233.05 637,1232.44 638,1231.82 639,1231.21 640,1230.6 641,1230 642,1229.4 643,1228.8 644,1228.21 645,1227.62 646,1227.03 647,1226.45 648,1225.87 649,1225.29 650,1224.72 651,1224.15 652,1223.59 653,1223.03 654,1222.47 655,1221.92 656,1221.37 657,1220.82 658,1220.28 659,1219.74 660,1219.21 661,1218.68 662,1218.16 663,1217.64 664,1217.12 665,1216.61 666,1216.1 667,1215.6 668,1215.1 669,1214.6 670,1214.11 671,1213.63 672,1213.14 673,1212.67 674,1212.2 675,1211.73 676,1211.27 677,1210.81 678,1210.35 679,1209.91 680,1209.46 681,1209.02 682,1208.59 683,1208.16 684,1207.74 685,1207.32 686,1206.9 687,1206.5 688,1206.09 689,1205.69 690,1205.3" fill="none" stroke="#000094" stroke-width="2.7" stroke-linejoin="round" />
<polyline points="690,1205.3 696.68,1203.4 692.21,1201.49 693.6,1199.13 689.01,1195.81 698.16,1193.43 697.23,1190.97 696.32,1187.78 694.91,1185.14 691.38,1183.25 692.14,1180.7 691.79,1177.53 692.67,1174.93 696.09,1172.53 696.52,1170.22 697.9,1168.5 698.13,1165.49 698.71,1163.12 688.5,1161.03 695.51,1159.24 693.54,1156.25 697.72,1153.55 695.02,1150.24 697.2,1146.9 699.13,1144.13 697.46,1141.72 698.8,1139.74 696.6,1137.99 702.02,1135.25 699,1133.3" fill="none" stroke="#000094" stroke-width="3.0" stroke-linejoin="round" />
<polyline points="699,1133.3 818,1140.2" fill="none" stroke="#000094" stroke-width="2.7" stroke-linejoin="round" />
<polyline points="869,1143.16 906,1145.3" fill="none" stroke="#000094" stroke-width="2.7" stroke-linejoin="round" />
<g transform="translate(843.9,1141) rotate(3)"><text transform="translate(-14.59,6.82) scale(1.050,1)" font-size="19.5" fill="#000094" stroke="#000094" stroke-width="0.25">1.8</text></g>
<polyline points="604,1282.01 605,1281.36 606,1280.71 607,1280.06 608,1279.41 609,1278.76 610,1278.1 611,1277.45 612,1276.8 613,1276.14 614,1275.49 615,1274.84 616,1274.18 617,1273.53 618,1272.88 619,1272.23 620,1271.58 621,1270.93 622,1270.28 623,1269.63 624,1268.99 625,1268.34 626,1267.7 627,1267.05 628,1266.41 629,1265.77 630,1265.14 631,1264.5 632,1263.87 633,1263.24 634,1262.61 635,1261.98 636,1261.36 637,1260.74 638,1260.12 639,1259.5 640,1258.89 641,1258.28 642,1257.67 643,1257.07 644,1256.47 645,1255.87 646,1255.27 647,1254.68 648,1254.1 649,1253.52 650,1252.94 651,1252.36 652,1251.79 653,1251.23 654,1250.66 655,1250.11 656,1249.55 657,1249.01 658,1248.46 659,1247.93 660,1247.39 661,1246.86 662,1246.34 663,1245.82 664,1245.31 665,1244.81 666,1244.3 667,1243.81 668,1243.32 669,1242.84 670,1242.36 671,1241.89 672,1241.42 673,1240.97 674,1240.52 675,1240.07 676,1239.63 677,1239.2 678,1238.78 679,1238.36 680,1237.95 681,1237.55 682,1237.15 683,1236.76 684,1236.38 685,1236.01 686,1235.64 687,1235.29 688,1234.94 689,1234.6 690,1234.27" fill="none" stroke="#000070" stroke-width="2.7" stroke-linejoin="round" />
<polyline points="690,1234.27 693.22,1231.62 692.89,1229.03 693.92,1226.01 692.86,1223.5 693.34,1221.64 693.07,1219.97 700.64,1216.9 692.56,1214.64 692.69,1212.83 693.68,1210.29 692.15,1208.28 696.87,1206.42 696.6,1203.49 700.14,1201.17 694.57,1198.42 693.14,1195.86 693.28,1193.27 698.96,1190.25 690.43,1186.87 697.64,1184.62 700.62,1182.33 697.36,1179.81 695.23,1176.71 696.1,1174.99 698.01,1173.18 693.89,1170.45 698.49,1168.23 698,1165.6" fill="none" stroke="#000070" stroke-width="3.0" stroke-linejoin="round" />
<polyline points="698,1165.6 751,1168.4" fill="none" stroke="#000070" stroke-width="2.7" stroke-linejoin="round" />
<polyline points="801,1171.05 906,1176.6" fill="none" stroke="#000070" stroke-width="2.7" stroke-linejoin="round" />
<g transform="translate(776,1169.2) rotate(3)"><text transform="translate(-14.54,6.82) scale(1.050,1)" font-size="19.5" fill="#000070" stroke="#000070" stroke-width="0.25">1.9</text></g>
<polyline points="644,1282.01 645,1281.43 646,1280.86 647,1280.28 648,1279.71 649,1279.13 650,1278.56 651,1277.98 652,1277.41 653,1276.84 654,1276.26 655,1275.7 656,1275.13 657,1274.56 658,1274 659,1273.45 660,1272.89 661,1272.35 662,1271.8 663,1271.26 664,1270.73 665,1270.2 666,1269.68 667,1269.16 668,1268.66 669,1268.16 670,1267.66 671,1267.18 672,1266.7 673,1266.23 674,1265.78 675,1265.33 676,1264.89 677,1264.46 678,1264.04 679,1263.63 680,1263.24 681,1262.85 682,1262.48 683,1262.12 684,1261.78 685,1261.44 686,1261.13 687,1260.82 688,1260.53 689,1260.25 690,1259.99 691,1259.75 692,1259.52" fill="none" stroke="#00004d" stroke-width="2.7" stroke-linejoin="round" />
<polyline points="692,1259.52 692.57,1256.68 692.56,1253.84 693.74,1250.58 696.78,1248.01 694.21,1246.23 689.98,1243.95 692.14,1242.14 697.11,1240.41 694.43,1238.62 701.3,1236.66 700.97,1234.83 693.06,1232.35 693.02,1229.84 699.27,1227.21 693.62,1224.3 695.39,1221.5 698.88,1218.34 694.32,1215.45 703.71,1212.69 698.99,1210.89 699.27,1207.54 695.02,1205.19 699.05,1202.78 703.81,1200.49 698.75,1197.99 699,1194.9" fill="none" stroke="#00004d" stroke-width="3.0" stroke-linejoin="round" />
<polyline points="699,1194.9 785,1199.26" fill="none" stroke="#00004d" stroke-width="2.7" stroke-linejoin="round" />
<polyline points="835,1201.8 906,1205.4" fill="none" stroke="#00004d" stroke-width="2.7" stroke-linejoin="round" />
<g transform="translate(810,1200.3) rotate(3)"><text transform="translate(-14.38,6.82) scale(1.050,1)" font-size="19.5" fill="#00004d" stroke="#00004d" stroke-width="0.25">2.0</text></g>
<line x1="217" y1="550.3" x2="311" y2="550.3" stroke="#ff0000" stroke-width="2.0" />
<line x1="338.7" y1="550.2" x2="484" y2="550.2" stroke="#ff3333" stroke-width="1.8" />
<line x1="594" y1="550.2" x2="697" y2="550.2" stroke="#ff6666" stroke-width="1.8" />
<line x1="484" y1="550.2" x2="594" y2="550.2" stroke="#ff4040" stroke-width="1.6" />
<polyline points="217,550 222,552.6 227.5,555.5" fill="none" stroke="#ff0000" stroke-width="2.7" stroke-linejoin="round" />
<polyline points="276.1,563.5 288,561.5 300,557 311,550.6" fill="none" stroke="#ff0000" stroke-width="2.7" stroke-linejoin="round" />
<g transform="translate(251.2,562) rotate(7)"><text transform="translate(-14.23,6.82) scale(1.050,1)" font-size="19.5" fill="#ff0000" stroke="#ff0000" stroke-width="0.25">0.5</text></g>
<polyline points="134.5,1244 139,1247.6 144.2,1252" fill="none" stroke="#6666ff" stroke-width="2.7" stroke-linejoin="round" />
<g transform="translate(167,1265.8) rotate(30)"><text transform="translate(-15.01,6.82) scale(1.080,1)" font-size="19.5" fill="#6666ff" stroke="#6666ff" stroke-width="0.25">1.3</text></g>
<line x1="905" y1="853" x2="905" y2="812" stroke="#9999ff" stroke-width="2.0" />
<line x1="905" y1="919.3" x2="905" y2="872.3" stroke="#6666ff" stroke-width="2.0" />
<line x1="905" y1="976" x2="905" y2="932" stroke="#3333ff" stroke-width="2.0" />
<line x1="905" y1="1026.3" x2="905" y2="992.3" stroke="#0000ff" stroke-width="2.0" />
<line x1="905" y1="1071.5" x2="905" y2="1054.5" stroke="#0000db" stroke-width="2.0" />
</g>
<rect x="134.1" y="549.2" width="772.2" height="726.6" fill="none" stroke="#000" stroke-width="2"/>
<line x1="127.2" y1="1178.84" x2="134.1" y2="1178.84" stroke="#000" stroke-width="1.6" />
<text transform="translate(83.12,1189.94) scale(1.1219,1)" font-size="29.5" fill="#000" stroke="#000" stroke-width="0.3">12</text>
<line x1="127.2" y1="1081.98" x2="134.1" y2="1081.98" stroke="#000" stroke-width="1.6" />
<text transform="translate(81.37,1093.08) scale(1.1873,1)" font-size="29.5" fill="#000" stroke="#000" stroke-width="0.3">14</text>
<line x1="127.2" y1="985.12" x2="134.1" y2="985.12" stroke="#000" stroke-width="1.6" />
<text transform="translate(81.35,996.22) scale(1.1992,1)" font-size="29.5" fill="#000" stroke="#000" stroke-width="0.3">16</text>
<line x1="127.2" y1="888.26" x2="134.1" y2="888.26" stroke="#000" stroke-width="1.6" />
<text transform="translate(81.35,899.36) scale(1.1992,1)" font-size="29.5" fill="#000" stroke="#000" stroke-width="0.3">18</text>
<line x1="127.2" y1="791.4" x2="134.1" y2="791.4" stroke="#000" stroke-width="1.6" />
<text transform="translate(82.28,802.5) scale(1.1641,1)" font-size="29.5" fill="#000" stroke="#000" stroke-width="0.3">20</text>
<line x1="127.2" y1="694.54" x2="134.1" y2="694.54" stroke="#000" stroke-width="1.6" />
<text transform="translate(82.26,705.64) scale(1.1814,1)" font-size="29.5" fill="#000" stroke="#000" stroke-width="0.3">22</text>
<line x1="127.2" y1="597.68" x2="134.1" y2="597.68" stroke="#000" stroke-width="1.6" />
<text transform="translate(82.29,608.78) scale(1.1585,1)" font-size="29.5" fill="#000" stroke="#000" stroke-width="0.3">24</text>
<line x1="274.45" y1="1275.8" x2="274.45" y2="1282.6" stroke="#000" stroke-width="1.6" />
<text transform="translate(252.97,1309.9) scale(1.3107,1)" font-size="29.5" fill="#000" stroke="#000" stroke-width="0.3">−3</text>
<line x1="414.8" y1="1275.8" x2="414.8" y2="1282.6" stroke="#000" stroke-width="1.6" />
<text transform="translate(393.95,1309.9) scale(1.2516,1)" font-size="29.5" fill="#000" stroke="#000" stroke-width="0.3">−2</text>
<line x1="555.15" y1="1275.8" x2="555.15" y2="1282.6" stroke="#000" stroke-width="1.6" />
<text transform="translate(533.3,1309.9) scale(1.2878,1)" font-size="29.5" fill="#000" stroke="#000" stroke-width="0.3">−1</text>
<line x1="695.5" y1="1275.8" x2="695.5" y2="1282.6" stroke="#000" stroke-width="1.6" />
<text transform="translate(685.78,1309.9) scale(1.1158,1)" font-size="29.5" fill="#000" stroke="#000" stroke-width="0.3">0</text>
<line x1="835.85" y1="1275.8" x2="835.85" y2="1282.6" stroke="#000" stroke-width="1.6" />
<text transform="translate(827.1,1309.9) scale(1.0832,1)" font-size="29.5" fill="#000" stroke="#000" stroke-width="0.3">1</text>
<text transform="translate(448.57,1355.3) scale(1.1288,1)" font-size="33.5" fill="#000" stroke="#000" stroke-width="0.3">MAT1 [°C]</text>
<text transform="translate(56.6,976.41) rotate(-90) scale(1.2171,1)" font-size="33" fill="#000" stroke="#000" stroke-width="0.3">Slope [°]</text>
<g clip-path="url(#cb)">
<ellipse cx="657.1" cy="876.2" rx="8.6" ry="8.0" fill="#33648d"/>
<ellipse cx="588.3" cy="902.6" rx="8.6" ry="8.0" fill="#472278"/>
<ellipse cx="433.4" cy="917.9" rx="8.6" ry="8.0" fill="#46307e"/>
<ellipse cx="670.8" cy="925.5" rx="8.6" ry="8.0" fill="#472575"/>
<ellipse cx="347.7" cy="939.3" rx="8.6" ry="8.0" fill="#306a8e"/>
<ellipse cx="564.3" cy="964.6" rx="8.6" ry="8.0" fill="#481e6f"/>
<ellipse cx="509.1" cy="968.9" rx="8.6" ry="8.0" fill="#2a798e"/>
<ellipse cx="543.3" cy="975.4" rx="8.6" ry="8.0" fill="#316a8e"/>
<ellipse cx="667.5" cy="975.4" rx="8.6" ry="8.0" fill="#2f6c8e"/>
<ellipse cx="487.2" cy="1013.5" rx="8.6" ry="8.0" fill="#24878e"/>
<ellipse cx="440.1" cy="1027.1" rx="8.6" ry="8.0" fill="#433e85"/>
<ellipse cx="392.6" cy="1125.8" rx="8.6" ry="8.0" fill="#450457"/>
<ellipse cx="491.4" cy="1109.8" rx="8.6" ry="8.0" fill="#472c7a"/>
<ellipse cx="599.8" cy="1150.7" rx="8.6" ry="8.0" fill="#440154"/>
<ellipse cx="446.4" cy="1176.4" rx="8.6" ry="8.0" fill="#424086"/>
<ellipse cx="616.3" cy="1179.6" rx="8.6" ry="8.0" fill="#440154"/>
<ellipse cx="345.1" cy="1209" rx="8.6" ry="8.0" fill="#440154"/>
<ellipse cx="535.4" cy="1218.8" rx="8.6" ry="8.0" fill="#440154"/>
<ellipse cx="498.5" cy="1223.6" rx="8.6" ry="8.0" fill="#440154"/>
<ellipse cx="707.4" cy="1218.4" rx="8.6" ry="8.0" fill="#440154"/>
<ellipse cx="661.1" cy="1246.1" rx="8.6" ry="8.0" fill="#440154"/>
<ellipse cx="606" cy="1268" rx="8.6" ry="8.0" fill="#31688e"/>
<ellipse cx="465.2" cy="819.9" rx="8.0" ry="7.4" fill="#21a086" stroke="#ff0000" stroke-width="5.3"/>
<ellipse cx="332.2" cy="879.5" rx="8.0" ry="7.4" fill="#6ccd5a" stroke="#ff0000" stroke-width="5.3"/>
<ellipse cx="565.4" cy="889.7" rx="8.0" ry="7.4" fill="#1f958b" stroke="#ff0000" stroke-width="5.3"/>
<ellipse cx="260.6" cy="935.2" rx="8.0" ry="7.4" fill="#4ec36b" stroke="#ff0000" stroke-width="5.3"/>
<ellipse cx="363.2" cy="954.1" rx="8.0" ry="7.4" fill="#2ab07f" stroke="#ff0000" stroke-width="5.3"/>
<ellipse cx="267.1" cy="983.7" rx="8.0" ry="7.4" fill="#f1e51d" stroke="#ff0000" stroke-width="5.3"/>
<ellipse cx="245.6" cy="1000.1" rx="8.0" ry="7.4" fill="#c8e020" stroke="#ff0000" stroke-width="5.3"/>
</g>
<line x1="942.9" y1="1275.5" x2="979.3" y2="1275.5" stroke="#800000" stroke-width="2.6" />
<line x1="942.9" y1="1239.34" x2="979.3" y2="1239.34" stroke="#990000" stroke-width="2.6" />
<line x1="942.9" y1="1203.18" x2="979.3" y2="1203.18" stroke="#b20000" stroke-width="2.6" />
<line x1="942.9" y1="1167.02" x2="979.3" y2="1167.02" stroke="#cc0000" stroke-width="2.6" />
<line x1="942.9" y1="1130.86" x2="979.3" y2="1130.86" stroke="#e60000" stroke-width="2.6" />
<line x1="942.9" y1="1094.7" x2="979.3" y2="1094.7" stroke="#ff0000" stroke-width="2.6" />
<line x1="942.9" y1="1058.54" x2="979.3" y2="1058.54" stroke="#ff3333" stroke-width="2.6" />
<line x1="942.9" y1="1022.38" x2="979.3" y2="1022.38" stroke="#ff6666" stroke-width="2.6" />
<line x1="942.9" y1="986.22" x2="979.3" y2="986.22" stroke="#ff9999" stroke-width="2.6" />
<line x1="942.9" y1="950.06" x2="979.3" y2="950.06" stroke="#ffcccc" stroke-width="2.6" />
<line x1="942.9" y1="913.9" x2="979.3" y2="913.9" stroke="#000000" stroke-width="2.6" />
<line x1="942.9" y1="877.74" x2="979.3" y2="877.74" stroke="#ccccff" stroke-width="2.6" />
<line x1="942.9" y1="841.58" x2="979.3" y2="841.58" stroke="#9999ff" stroke-width="2.6" />
<line x1="942.9" y1="805.42" x2="979.3" y2="805.42" stroke="#6666ff" stroke-width="2.6" />
<line x1="942.9" y1="769.26" x2="979.3" y2="769.26" stroke="#3333ff" stroke-width="2.6" />
<line x1="942.9" y1="733.1" x2="979.3" y2="733.1" stroke="#0000ff" stroke-width="2.6" />
<line x1="942.9" y1="696.94" x2="979.3" y2="696.94" stroke="#0000db" stroke-width="2.6" />
<line x1="942.9" y1="660.78" x2="979.3" y2="660.78" stroke="#0000b8" stroke-width="2.6" />
<line x1="942.9" y1="624.62" x2="979.3" y2="624.62" stroke="#000094" stroke-width="2.6" />
<line x1="942.9" y1="588.46" x2="979.3" y2="588.46" stroke="#000070" stroke-width="2.6" />
<line x1="942.9" y1="552.3" x2="979.3" y2="552.3" stroke="#00004d" stroke-width="2.6" />
<rect x="942.9" y="552.3" width="36.4" height="723.2" fill="none" stroke="#000" stroke-width="1.6"/>
<line x1="979.3" y1="1275.5" x2="986" y2="1275.5" stroke="#000" stroke-width="1.6" />
<text transform="translate(990.12,1285.3) scale(1.1729,1)" font-size="29.5" fill="#000" stroke="#000" stroke-width="0.3">0.0</text>
<line x1="979.3" y1="1094.7" x2="986" y2="1094.7" stroke="#000" stroke-width="1.6" />
<text transform="translate(990.11,1104.5) scale(1.1774,1)" font-size="29.5" fill="#000" stroke="#000" stroke-width="0.3">0.5</text>
<line x1="979.3" y1="913.9" x2="986" y2="913.9" stroke="#000" stroke-width="1.6" />
<text transform="translate(988.83,923.7) scale(1.2050,1)" font-size="29.5" fill="#000" stroke="#000" stroke-width="0.3">1.0</text>
<line x1="979.3" y1="733.1" x2="986" y2="733.1" stroke="#000" stroke-width="1.6" />
<text transform="translate(988.82,742.9) scale(1.2097,1)" font-size="29.5" fill="#000" stroke="#000" stroke-width="0.3">1.5</text>
<line x1="979.3" y1="552.3" x2="986" y2="552.3" stroke="#000" stroke-width="1.6" />
<text transform="translate(989.76,562.1) scale(1.1819,1)" font-size="29.5" fill="#000" stroke="#000" stroke-width="0.3">2.0</text>
<text transform="translate(1087.5,1030.96) rotate(-90) scale(1.0573,1)" font-size="35" fill="#000" stroke="#000" stroke-width="0.3">Factor of safety</text>
<defs><linearGradient id="vg" x1="0" x2="1" y1="0" y2="0"><stop offset="0.0" stop-color="#440154"/><stop offset="0.1" stop-color="#482475"/><stop offset="0.2" stop-color="#414487"/><stop offset="0.3" stop-color="#355f8d"/><stop offset="0.4" stop-color="#2a788e"/><stop offset="0.5" stop-color="#21918c"/><stop offset="0.6" stop-color="#22a884"/><stop offset="0.7" stop-color="#44bf70"/><stop offset="0.8" stop-color="#7ad151"/><stop offset="0.9" stop-color="#bddf26"/><stop offset="1.0" stop-color="#fde725"/></linearGradient></defs>
<rect x="164.3" y="1396.8" width="725" height="37.3" fill="url(#vg)" stroke="#000" stroke-width="1.6"/>
<line x1="165.14" y1="1434.1" x2="165.14" y2="1438.3" stroke="#000" stroke-width="1.2" />
<line x1="187.71" y1="1434.1" x2="187.71" y2="1438.3" stroke="#000" stroke-width="1.2" />
<line x1="340.71" y1="1434.1" x2="340.71" y2="1438.3" stroke="#000" stroke-width="1.2" />
<line x1="418.41" y1="1434.1" x2="418.41" y2="1438.3" stroke="#000" stroke-width="1.2" />
<line x1="473.53" y1="1434.1" x2="473.53" y2="1438.3" stroke="#000" stroke-width="1.2" />
<line x1="516.29" y1="1434.1" x2="516.29" y2="1438.3" stroke="#000" stroke-width="1.2" />
<line x1="551.22" y1="1434.1" x2="551.22" y2="1438.3" stroke="#000" stroke-width="1.2" />
<line x1="580.76" y1="1434.1" x2="580.76" y2="1438.3" stroke="#000" stroke-width="1.2" />
<line x1="606.34" y1="1434.1" x2="606.34" y2="1438.3" stroke="#000" stroke-width="1.2" />
<line x1="628.91" y1="1434.1" x2="628.91" y2="1438.3" stroke="#000" stroke-width="1.2" />
<line x1="781.91" y1="1434.1" x2="781.91" y2="1438.3" stroke="#000" stroke-width="1.2" />
<line x1="859.61" y1="1434.1" x2="859.61" y2="1438.3" stroke="#000" stroke-width="1.2" />
<line x1="207.9" y1="1434.1" x2="207.9" y2="1441.1" stroke="#000" stroke-width="1.6" />
<line x1="649.1" y1="1434.1" x2="649.1" y2="1441.1" stroke="#000" stroke-width="1.6" />
<text transform="translate(187.8,1467.2) scale(1.1763,1)" font-size="29.5" fill="#000" stroke="#000" stroke-width="0.3">10</text>
<text transform="translate(494.84,1467.2) scale(1.1529,1)" font-size="29.5" fill="#000" stroke="#000" stroke-width="0.3">50</text>
<text transform="translate(620.65,1467.2) scale(1.1510,1)" font-size="29.5" fill="#000" stroke="#000" stroke-width="0.3">100</text>
<text transform="translate(753.29,1467.2) scale(1.1585,1)" font-size="29.5" fill="#000" stroke="#000" stroke-width="0.3">200</text>
<text transform="translate(831.94,1467.2) scale(1.1555,1)" font-size="29.5" fill="#000" stroke="#000" stroke-width="0.3">300</text>
<text transform="translate(352.92,1515.2) scale(1.1479,1)" font-size="33.5" fill="#000" stroke="#000" stroke-width="0.3">Displacement [mm]</text>
</svg></body></html>
